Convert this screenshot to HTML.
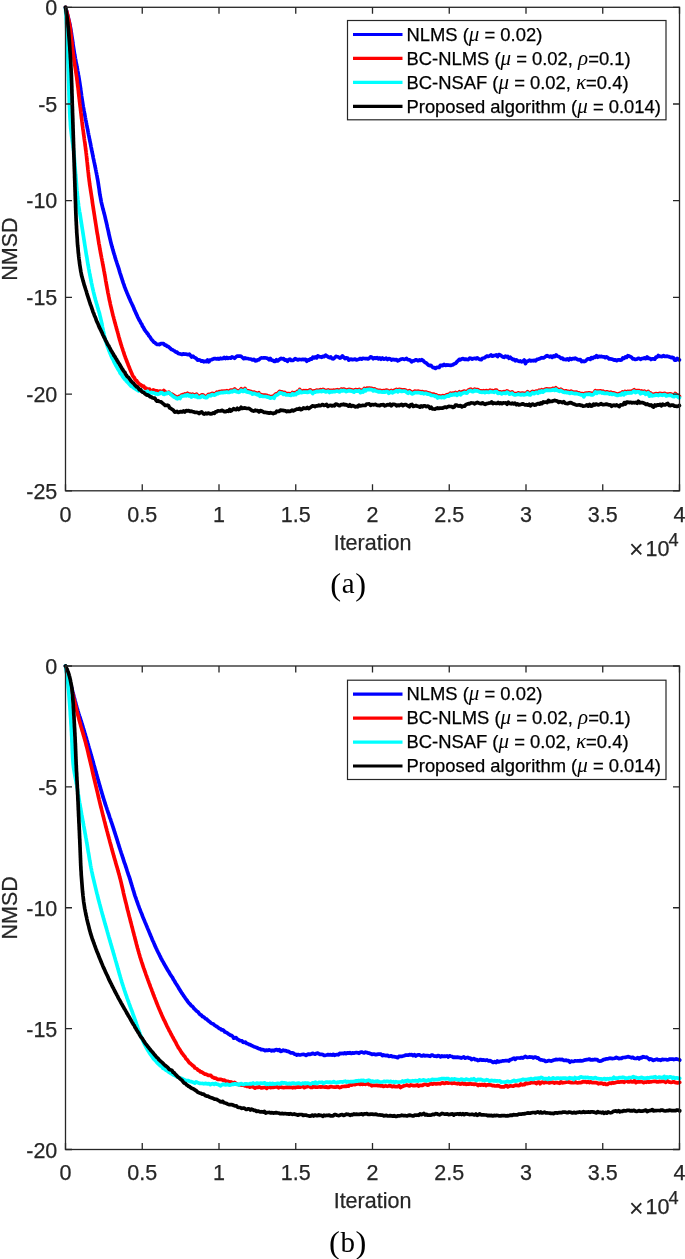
<!DOCTYPE html>
<html><head><meta charset="utf-8"><title>NMSD curves</title>
<style>
html,body{margin:0;padding:0;background:#fff}
svg{display:block}
text{font-family:"Liberation Sans",sans-serif;fill:#262626;stroke:#262626;stroke-width:0.25px}
.tk{font-size:21.5px}
.lb{font-size:21.5px}
.lg{font-size:18.4px;fill:#000;stroke:#000}
.m{font-family:"Liberation Serif","DejaVu Serif",serif;font-style:italic;font-size:21px;stroke:none}
.cap{font-family:"Liberation Serif",serif;font-size:29px;fill:#000;stroke:none}
</style></head><body>
<svg width="685" height="1259" viewBox="0 0 685 1259">
<rect width="685" height="1259" fill="#fff"/>
<g clip-path="none" fill="none" stroke-linejoin="round" stroke-linecap="round">
<path d="M65.5,7.4 L65.9,8.5 L66.2,9.8 L66.6,11.0 L66.9,12.4 L67.2,13.5 L67.6,14.9 L67.9,16.1 L68.2,17.4 L68.5,18.6 L68.8,19.9 L69.1,21.1 L69.4,22.4 L69.7,23.7 L69.9,25.0 L70.2,26.2 L70.4,27.5 L70.7,28.8 L70.9,30.1 L71.1,31.3 L71.3,32.6 L71.5,33.9 L71.7,35.2 L71.9,36.5 L72.1,37.8 L72.3,39.0 L72.5,40.3 L72.7,41.6 L72.8,42.9 L73.0,44.2 L73.2,45.5 L73.4,46.8 L73.6,48.1 L73.8,49.3 L74.0,50.6 L74.2,51.9 L74.4,53.2 L74.6,54.5 L74.9,55.8 L75.1,57.1 L75.3,58.3 L75.6,59.6 L75.8,60.9 L76.0,62.2 L76.3,63.4 L76.5,64.7 L76.8,66.0 L77.0,67.3 L77.3,68.5 L77.5,69.8 L77.7,71.1 L78.0,72.4 L78.2,73.6 L78.4,74.9 L78.7,76.2 L78.9,77.5 L79.1,78.8 L79.3,80.1 L79.5,81.3 L79.7,82.6 L79.9,83.9 L80.1,85.2 L80.3,86.5 L80.5,87.8 L80.6,89.1 L80.8,90.3 L81.0,91.6 L81.2,92.9 L81.4,94.2 L81.5,95.5 L81.7,96.8 L81.9,98.1 L82.1,99.4 L82.3,100.7 L82.5,101.9 L82.7,103.2 L82.9,104.5 L83.1,105.8 L83.3,107.1 L83.6,108.3 L83.8,109.6 L84.0,110.9 L84.3,112.2 L84.5,113.5 L84.8,114.7 L85.0,116.0 L85.2,117.3 L85.5,118.6 L85.7,119.8 L86.0,121.1 L86.2,122.4 L86.5,123.7 L86.7,124.9 L87.0,126.2 L87.2,127.5 L87.5,128.8 L87.7,130.0 L88.0,131.3 L88.2,132.6 L88.5,133.9 L88.7,135.1 L89.0,136.4 L89.2,137.7 L89.5,139.0 L89.7,140.2 L90.0,141.5 L90.3,142.8 L90.5,144.0 L90.8,145.3 L91.0,146.6 L91.3,147.9 L91.5,149.2 L91.8,150.5 L92.0,151.7 L92.3,153.0 L92.6,154.2 L92.8,155.5 L93.1,156.8 L93.3,158.1 L93.6,159.4 L93.9,160.6 L94.1,161.9 L94.4,163.2 L94.7,164.5 L94.9,165.7 L95.2,167.0 L95.5,168.3 L95.7,169.6 L96.0,170.8 L96.2,172.1 L96.5,173.4 L96.7,174.6 L97.0,175.9 L97.2,177.2 L97.4,178.5 L97.7,179.7 L97.9,181.0 L98.1,182.3 L98.3,183.6 L98.5,184.9 L98.7,186.2 L98.9,187.5 L99.1,188.8 L99.3,190.1 L99.4,191.3 L99.6,192.6 L99.8,193.9 L100.0,195.2 L100.3,196.5 L100.5,197.8 L100.7,199.0 L101.0,200.2 L101.2,201.6 L101.5,202.9 L101.8,204.1 L102.1,205.4 L102.4,206.6 L102.7,207.9 L103.0,209.1 L103.4,210.4 L103.7,211.6 L104.0,212.9 L104.4,214.2 L104.7,215.4 L105.0,216.7 L105.3,218.0 L105.6,219.3 L105.9,220.5 L106.2,221.8 L106.5,223.0 L106.8,224.3 L107.1,225.6 L107.3,226.9 L107.6,228.1 L107.9,229.4 L108.2,230.6 L108.5,232.0 L108.7,233.2 L109.0,234.5 L109.3,235.7 L109.6,237.0 L109.9,238.3 L110.2,239.5 L110.5,240.8 L110.8,242.1 L111.1,243.3 L111.4,244.6 L111.8,245.8 L112.1,247.1 L112.5,248.3 L112.8,249.6 L113.2,250.8 L113.5,252.2 L113.9,253.4 L114.3,254.6 L114.7,255.7 L115.0,257.1 L115.4,258.3 L115.8,259.6 L116.2,260.8 L116.6,262.0 L117.0,263.3 L117.4,264.5 L117.8,265.9 L118.2,266.9 L118.6,268.1 L119.0,269.4 L119.3,270.7 L119.7,271.9 L120.1,273.3 L120.5,274.4 L120.9,275.6 L121.3,277.0 L121.7,278.1 L122.1,279.3 L122.5,280.7 L122.9,281.9 L123.3,283.1 L123.8,284.4 L124.2,285.5 L124.6,286.9 L125.1,288.0 L125.5,289.3 L126.0,290.4 L126.5,291.5 L127.0,293.0 L127.5,294.0 L128.0,295.2 L128.5,296.3 L129.0,297.6 L129.6,298.8 L130.1,300.0 L130.6,301.2 L131.2,302.5 L131.7,303.5 L132.2,304.6 L132.8,305.8 L133.3,307.0 L133.8,308.1 L134.3,309.6 L134.8,310.6 L135.4,311.8 L135.9,313.1 L136.4,314.1 L137.0,315.3 L137.5,316.7 L138.1,317.8 L138.7,318.9 L139.3,320.3 L139.9,321.0 L140.5,322.3 L141.1,323.5 L141.8,324.2 L142.4,326.1 L143.1,327.0 L143.7,327.9 L144.4,329.5 L145.1,330.4 L145.8,331.5 L146.6,332.3 L147.3,333.5 L148.1,334.2 L148.8,335.7 L149.6,336.5 L150.5,337.8 L151.3,339.2 L152.2,340.1 L153.1,341.2 L154.0,342.2 L155.0,342.6 L156.0,343.8 L157.1,344.5 L158.3,344.3 L159.6,344.6 L161.0,343.6 L162.3,343.7 L163.6,343.6 L164.8,345.2 L165.9,345.0 L167.0,346.4 L168.1,346.3 L169.2,347.3 L170.3,348.3 L171.4,349.5 L172.5,349.8 L173.6,350.5 L174.8,351.2 L175.9,352.1 L177.1,352.2 L178.2,353.4 L179.4,353.7 L180.6,354.1 L181.8,354.5 L183.1,353.8 L184.4,354.1 L185.8,354.0 L187.1,354.4 L188.3,354.7 L189.4,354.2 L190.6,355.6 L191.7,357.0 L192.9,356.2 L194.0,357.2 L195.2,357.8 L196.4,358.6 L197.6,360.2 L198.8,359.9 L200.0,360.0 L201.3,361.2 L202.5,360.8 L203.8,361.8 L205.0,361.3 L206.3,361.6 L207.5,360.0 L208.8,361.8 L210.1,360.1 L211.4,359.7 L212.6,359.2 L213.9,358.7 L215.2,358.6 L216.5,359.0 L217.9,358.5 L219.1,359.1 L220.4,358.2 L221.7,358.7 L222.9,358.5 L224.2,357.4 L225.5,358.5 L226.8,357.5 L228.1,358.3 L229.4,357.8 L230.7,358.2 L232.0,356.9 L233.3,357.4 L234.6,358.3 L235.9,357.0 L237.2,356.1 L238.5,356.2 L239.8,356.0 L241.1,356.3 L242.4,357.5 L243.7,358.7 L245.0,357.9 L246.3,358.5 L247.5,358.5 L248.8,358.8 L250.1,359.0 L251.4,359.3 L252.7,360.0 L253.9,359.3 L255.2,360.8 L256.5,360.7 L257.7,359.8 L258.9,359.8 L260.2,358.4 L261.4,357.9 L262.6,358.0 L263.9,357.8 L265.1,357.9 L266.4,358.0 L267.7,358.5 L269.0,359.7 L270.2,358.4 L271.5,360.2 L272.7,360.3 L274.0,361.3 L275.2,361.4 L276.4,359.7 L277.6,360.9 L278.8,360.0 L279.9,359.1 L281.1,358.3 L282.3,358.9 L283.6,358.5 L284.8,360.2 L286.1,359.9 L287.4,361.3 L288.6,359.7 L289.9,359.1 L291.2,360.5 L292.5,360.5 L293.8,359.8 L295.1,358.7 L296.4,359.3 L297.7,359.9 L299.0,359.4 L300.3,359.5 L301.6,359.6 L302.9,359.3 L304.2,359.7 L305.5,359.3 L306.8,361.2 L308.1,359.9 L309.3,360.1 L310.5,358.8 L311.7,359.1 L312.9,357.1 L314.1,357.9 L315.3,357.0 L316.6,357.9 L317.8,355.9 L319.1,356.7 L320.4,356.8 L321.7,357.3 L323.0,356.3 L324.3,356.6 L325.6,355.2 L326.9,356.0 L328.2,357.0 L329.5,357.6 L330.8,357.0 L332.1,358.7 L333.4,358.8 L334.6,357.8 L335.9,356.4 L337.2,356.7 L338.5,357.1 L339.8,358.1 L341.1,357.5 L342.4,355.9 L343.7,357.2 L344.9,358.5 L346.2,357.8 L347.5,358.0 L348.7,360.1 L350.0,359.3 L351.2,359.2 L352.5,359.7 L353.8,359.4 L355.1,359.0 L356.4,359.8 L357.7,359.6 L359.0,359.2 L360.3,358.5 L361.6,359.2 L362.9,358.3 L364.2,358.5 L365.5,358.7 L366.8,358.5 L368.1,359.0 L369.3,358.2 L370.6,356.9 L371.9,357.2 L373.2,358.8 L374.5,357.8 L375.8,358.3 L377.2,357.6 L378.5,358.8 L379.8,358.0 L381.0,359.2 L382.3,358.0 L383.6,359.1 L384.9,358.9 L386.2,358.2 L387.5,359.6 L388.8,358.6 L390.1,358.8 L391.4,360.0 L392.7,359.4 L394.0,359.6 L395.3,359.9 L396.5,359.6 L397.8,360.8 L399.1,360.3 L400.3,359.5 L401.6,359.0 L402.9,358.9 L404.1,359.4 L405.4,359.0 L406.6,358.5 L407.8,359.7 L409.1,359.8 L410.3,360.3 L411.6,361.9 L412.8,360.9 L414.1,360.9 L415.4,359.8 L416.7,359.9 L418.0,360.8 L419.3,359.9 L420.5,360.5 L421.7,359.7 L422.9,360.3 L424.0,361.6 L425.2,362.6 L426.3,363.0 L427.4,364.2 L428.5,365.2 L429.6,365.6 L430.8,365.3 L431.9,366.5 L433.1,367.6 L434.3,367.6 L435.5,368.4 L436.7,367.3 L437.9,367.3 L439.1,367.5 L440.3,365.4 L441.6,365.4 L442.8,365.6 L444.1,364.4 L445.4,365.4 L446.7,364.9 L448.0,365.2 L449.3,365.2 L450.6,365.5 L451.8,365.0 L452.9,364.9 L454.0,363.9 L455.1,363.5 L456.1,363.0 L457.2,361.4 L458.3,360.6 L459.4,359.3 L460.5,359.8 L461.8,358.9 L463.1,358.7 L464.4,359.4 L465.7,359.1 L467.0,359.5 L468.3,359.6 L469.6,358.2 L470.9,358.3 L472.2,359.1 L473.5,358.5 L474.8,358.3 L476.1,358.8 L477.4,357.8 L478.7,358.9 L479.9,359.5 L481.2,359.7 L482.5,358.2 L483.7,358.0 L484.8,357.7 L486.0,356.6 L487.2,356.0 L488.5,356.4 L489.7,355.8 L491.0,354.9 L492.3,356.2 L493.6,355.7 L494.9,355.5 L496.2,355.0 L497.6,356.6 L498.9,354.6 L500.2,355.0 L501.5,355.9 L502.7,357.0 L504.0,357.3 L505.3,356.1 L506.6,357.0 L507.8,356.5 L509.1,358.3 L510.3,357.3 L511.5,358.5 L512.8,359.6 L514.0,359.3 L515.3,360.7 L516.5,359.8 L517.8,360.9 L519.0,361.4 L520.3,360.9 L521.6,361.9 L522.9,361.3 L524.2,360.0 L525.5,363.5 L526.8,361.4 L528.1,361.1 L529.4,360.2 L530.7,361.0 L532.0,360.5 L533.2,360.8 L534.5,360.3 L535.7,360.8 L537.0,359.4 L538.2,359.2 L539.5,358.8 L540.8,358.1 L542.0,357.7 L543.3,358.0 L544.5,357.4 L545.8,356.3 L547.1,355.7 L548.3,356.2 L549.6,356.9 L550.9,356.2 L552.2,357.4 L553.5,355.8 L554.8,356.5 L556.1,354.9 L557.4,356.2 L558.7,356.5 L559.9,357.3 L561.2,358.5 L562.4,358.1 L563.6,359.4 L564.9,359.4 L566.1,359.7 L567.4,358.8 L568.7,360.0 L570.0,358.4 L571.3,359.4 L572.6,358.5 L573.9,358.8 L575.2,358.2 L576.5,358.9 L577.8,359.7 L579.1,359.8 L580.3,359.5 L581.6,361.5 L582.8,361.1 L584.1,361.6 L585.3,361.2 L586.5,360.0 L587.8,358.8 L589.0,358.8 L590.2,359.4 L591.4,357.6 L592.6,358.3 L593.9,357.1 L595.2,357.3 L596.5,355.7 L597.7,357.2 L599.0,356.3 L600.3,356.7 L601.6,356.4 L602.8,356.9 L604.1,356.8 L605.3,357.7 L606.5,356.9 L607.8,357.6 L609.1,359.0 L610.3,358.9 L611.6,359.1 L612.9,359.5 L614.2,360.2 L615.4,359.8 L616.7,360.6 L618.0,359.8 L619.2,359.8 L620.4,360.2 L621.7,359.7 L622.9,357.9 L624.1,358.4 L625.4,356.8 L626.6,357.4 L627.8,355.7 L629.1,356.1 L630.3,356.7 L631.6,357.4 L632.8,358.8 L634.1,358.9 L635.4,359.5 L636.6,359.3 L637.9,358.4 L639.2,358.4 L640.5,359.3 L641.8,358.6 L643.2,358.5 L644.5,357.8 L645.8,358.5 L647.1,356.9 L648.4,358.5 L649.7,358.3 L651.0,359.5 L652.2,358.8 L653.5,358.8 L654.7,359.2 L655.9,357.2 L657.1,357.2 L658.3,355.5 L659.5,356.3 L660.8,356.4 L662.1,356.7 L663.4,355.6 L664.7,356.4 L666.0,356.4 L667.3,356.2 L668.5,356.5 L669.7,357.1 L671.0,357.6 L672.2,357.4 L673.4,357.7 L674.7,360.2 L675.9,360.1 L677.2,358.4 L678.5,359.7 L679.4,360.0" stroke="#0000ff" stroke-width="3.7"/>
<path d="M65.5,7.2 L65.9,8.5 L66.2,9.8 L66.5,11.2 L66.9,12.4 L67.2,13.6 L67.5,14.8 L67.8,16.1 L68.1,17.4 L68.4,18.7 L68.7,20.0 L69.0,21.2 L69.2,22.5 L69.5,23.7 L69.7,25.0 L69.9,26.3 L70.1,27.6 L70.3,28.9 L70.5,30.1 L70.6,31.4 L70.8,32.7 L70.9,34.0 L71.1,35.3 L71.2,36.6 L71.4,37.9 L71.5,39.2 L71.7,40.5 L71.8,41.8 L71.9,43.1 L72.1,44.4 L72.2,45.6 L72.3,47.0 L72.5,48.3 L72.6,49.5 L72.8,50.8 L73.0,52.1 L73.1,53.4 L73.3,54.7 L73.5,56.0 L73.7,57.3 L73.9,58.5 L74.0,59.8 L74.2,61.1 L74.4,62.4 L74.6,63.7 L74.8,65.0 L75.0,66.2 L75.2,67.5 L75.4,68.8 L75.6,70.1 L75.8,71.4 L76.0,72.7 L76.2,74.0 L76.4,75.3 L76.6,76.5 L76.8,77.8 L76.9,79.1 L77.1,80.4 L77.3,81.7 L77.4,83.0 L77.6,84.3 L77.7,85.6 L77.9,86.9 L78.1,88.2 L78.2,89.4 L78.4,90.8 L78.5,92.0 L78.6,93.3 L78.8,94.6 L78.9,95.9 L79.1,97.2 L79.2,98.5 L79.4,99.8 L79.5,101.1 L79.7,102.4 L79.8,103.7 L80.0,105.0 L80.1,106.2 L80.3,107.5 L80.5,108.8 L80.6,110.1 L80.8,111.4 L80.9,112.7 L81.1,114.0 L81.2,115.3 L81.4,116.6 L81.5,117.9 L81.7,119.1 L81.9,120.5 L82.0,121.7 L82.2,123.0 L82.3,124.3 L82.5,125.6 L82.7,126.9 L82.8,128.2 L83.0,129.5 L83.2,130.7 L83.4,132.0 L83.5,133.3 L83.7,134.6 L83.9,135.9 L84.1,137.2 L84.2,138.5 L84.4,139.7 L84.6,141.1 L84.8,142.3 L85.0,143.6 L85.1,144.9 L85.3,146.2 L85.5,147.5 L85.6,148.8 L85.8,150.1 L86.0,151.3 L86.1,152.7 L86.3,153.9 L86.4,155.2 L86.6,156.5 L86.7,157.8 L86.8,159.1 L87.0,160.4 L87.1,161.7 L87.3,163.0 L87.4,164.3 L87.5,165.6 L87.7,166.9 L87.8,168.2 L87.9,169.5 L88.1,170.7 L88.2,172.0 L88.4,173.3 L88.5,174.6 L88.6,175.9 L88.8,177.2 L89.0,178.5 L89.1,179.8 L89.3,181.1 L89.5,182.4 L89.6,183.6 L89.8,184.9 L90.0,186.2 L90.2,187.5 L90.4,188.8 L90.6,190.1 L90.8,191.4 L91.0,192.7 L91.2,193.9 L91.4,195.2 L91.6,196.5 L91.8,197.8 L92.0,199.1 L92.2,200.4 L92.3,201.6 L92.5,202.9 L92.7,204.2 L92.9,205.5 L93.1,206.8 L93.3,208.1 L93.5,209.4 L93.7,210.7 L93.9,211.9 L94.1,213.2 L94.3,214.5 L94.5,215.8 L94.7,217.0 L94.9,218.4 L95.1,219.7 L95.3,220.9 L95.5,222.2 L95.7,223.5 L95.9,224.8 L96.1,226.0 L96.3,227.3 L96.5,228.6 L96.7,229.9 L96.9,231.2 L97.1,232.5 L97.3,233.8 L97.6,235.0 L97.8,236.3 L98.0,237.6 L98.2,238.9 L98.4,240.2 L98.6,241.5 L98.8,242.8 L99.0,244.1 L99.3,245.3 L99.5,246.6 L99.7,247.8 L99.9,249.2 L100.2,250.4 L100.4,251.7 L100.6,253.0 L100.9,254.2 L101.1,255.5 L101.4,256.8 L101.6,258.1 L101.9,259.4 L102.1,260.6 L102.4,261.9 L102.6,263.2 L102.8,264.5 L103.1,265.7 L103.3,267.0 L103.6,268.3 L103.8,269.6 L104.0,270.9 L104.3,272.1 L104.5,273.4 L104.7,274.7 L105.0,276.0 L105.2,277.3 L105.4,278.5 L105.6,279.8 L105.8,281.1 L106.1,282.4 L106.3,283.7 L106.5,285.0 L106.8,286.2 L107.0,287.5 L107.2,288.8 L107.5,290.0 L107.7,291.3 L107.9,292.6 L108.2,293.9 L108.5,295.2 L108.7,296.4 L109.0,297.7 L109.2,299.0 L109.5,300.3 L109.8,301.5 L110.1,302.8 L110.3,304.1 L110.6,305.4 L110.9,306.6 L111.2,307.8 L111.5,309.1 L111.8,310.4 L112.1,311.7 L112.4,312.9 L112.7,314.2 L113.0,315.5 L113.4,316.7 L113.7,317.9 L114.0,319.2 L114.4,320.6 L114.7,321.8 L115.0,322.9 L115.4,324.2 L115.7,325.5 L116.1,326.7 L116.4,328.1 L116.8,329.3 L117.1,330.5 L117.5,331.8 L117.8,333.0 L118.2,334.3 L118.5,335.6 L118.8,336.8 L119.2,338.0 L119.5,339.3 L119.9,340.5 L120.3,341.9 L120.6,343.1 L121.0,344.3 L121.4,345.5 L121.8,346.8 L122.2,348.0 L122.6,349.2 L123.0,350.6 L123.4,351.6 L123.8,353.0 L124.2,354.1 L124.6,355.5 L125.1,356.5 L125.5,357.9 L126.0,359.0 L126.4,360.2 L126.9,361.6 L127.4,362.7 L127.9,363.9 L128.3,365.2 L128.8,366.3 L129.3,367.5 L129.8,368.8 L130.3,370.1 L130.8,371.2 L131.3,372.4 L131.9,373.8 L132.4,375.0 L133.0,376.2 L133.7,377.0 L134.3,377.7 L135.0,379.3 L135.8,380.4 L136.7,380.8 L137.6,382.2 L138.5,383.2 L139.5,384.1 L140.6,384.6 L141.6,385.6 L142.6,386.5 L143.7,386.2 L144.9,388.1 L146.0,388.1 L147.2,389.4 L148.4,389.2 L149.6,389.1 L150.9,391.2 L152.1,391.8 L153.3,390.0 L154.6,390.5 L155.9,391.4 L157.2,390.8 L158.5,392.0 L159.8,391.1 L161.1,391.4 L162.5,391.9 L163.8,390.5 L165.1,391.7 L166.3,393.2 L167.6,392.6 L168.8,392.1 L170.0,393.7 L171.7,394.0 L172.9,394.8 L174.0,395.7 L175.2,396.2 L176.3,397.1 L177.5,397.5 L178.8,396.5 L180.0,397.2 L181.2,395.2 L182.5,394.7 L183.8,394.7 L185.0,393.9 L186.3,394.5 L187.5,393.3 L188.8,394.6 L190.1,394.1 L191.4,395.8 L192.6,394.2 L193.9,394.7 L195.2,395.3 L196.5,394.1 L197.8,396.1 L199.1,396.1 L200.4,396.0 L201.7,394.9 L203.0,394.8 L204.3,396.0 L205.6,396.3 L206.9,396.3 L208.2,394.6 L209.5,394.3 L210.7,394.5 L212.0,393.3 L213.2,393.7 L214.4,393.8 L215.5,393.5 L216.7,392.2 L217.9,392.5 L219.1,391.7 L220.4,391.5 L221.7,391.2 L223.0,391.3 L224.3,391.0 L225.6,391.0 L226.9,390.7 L228.2,391.2 L229.6,391.0 L230.8,390.0 L232.1,390.6 L233.4,390.0 L234.7,389.0 L236.0,390.3 L237.3,390.7 L238.6,391.0 L239.9,390.4 L241.2,388.8 L242.4,390.0 L243.7,390.1 L245.0,388.5 L246.2,390.5 L247.5,390.8 L248.8,390.9 L250.0,391.4 L251.3,391.6 L252.5,392.8 L253.8,392.0 L255.0,392.5 L256.3,393.0 L257.5,393.6 L258.8,392.8 L260.0,395.0 L261.3,394.6 L262.5,395.1 L263.8,395.2 L265.1,395.2 L266.4,395.3 L267.7,395.9 L269.0,396.1 L270.3,396.9 L271.6,396.5 L272.8,396.2 L274.0,396.9 L275.1,394.6 L276.2,393.8 L277.4,393.7 L278.5,392.7 L279.7,391.3 L280.9,391.9 L282.1,391.8 L283.4,393.1 L284.7,392.4 L286.0,393.7 L287.3,393.7 L288.6,393.6 L289.9,393.9 L291.1,394.2 L292.4,392.5 L293.6,393.6 L294.8,392.7 L296.0,393.3 L297.3,391.3 L298.5,391.9 L299.7,389.5 L301.0,391.4 L302.3,391.1 L303.6,390.7 L304.9,390.8 L306.2,390.7 L307.5,391.2 L308.8,390.8 L310.1,389.8 L311.4,390.8 L312.7,392.3 L314.0,390.8 L315.3,390.8 L316.6,390.1 L317.9,390.3 L319.2,390.1 L320.5,389.7 L321.8,390.3 L323.0,389.3 L324.3,390.0 L325.6,390.6 L326.9,390.3 L328.2,389.9 L329.5,391.2 L330.8,390.3 L332.1,390.6 L333.4,390.2 L334.7,390.4 L335.9,390.0 L337.2,389.7 L338.5,390.1 L339.8,390.6 L341.1,389.1 L342.4,389.6 L343.7,389.1 L345.0,389.5 L346.3,390.3 L347.6,389.8 L348.8,389.4 L350.1,389.6 L351.4,389.8 L352.7,390.2 L354.0,390.8 L355.3,389.5 L356.7,389.8 L358.0,389.9 L359.2,389.4 L360.5,391.3 L361.8,390.2 L363.0,390.8 L364.3,388.4 L365.5,389.6 L366.8,388.2 L368.1,388.4 L369.3,388.1 L370.6,388.3 L371.9,388.3 L373.2,389.5 L374.5,388.8 L375.8,389.7 L377.1,390.0 L378.4,390.6 L379.7,390.3 L381.0,390.6 L382.3,390.8 L383.6,390.6 L384.9,390.9 L386.2,390.2 L387.5,390.4 L388.8,392.1 L390.0,390.9 L391.3,390.4 L392.6,391.6 L393.9,390.6 L395.2,390.1 L396.5,389.4 L397.8,390.6 L399.1,389.3 L400.4,389.5 L401.7,390.2 L403.0,389.9 L404.3,389.9 L405.6,390.0 L406.8,391.1 L408.1,392.0 L409.4,390.6 L410.7,391.5 L412.0,392.6 L413.3,392.2 L414.6,391.2 L415.9,391.4 L417.2,391.4 L418.5,391.2 L419.8,391.5 L421.1,392.0 L422.4,391.6 L423.7,392.5 L425.0,392.1 L426.2,392.0 L427.5,392.9 L428.8,392.9 L430.0,393.3 L431.3,394.1 L432.5,394.2 L433.8,394.2 L435.1,395.0 L436.3,394.9 L437.6,396.7 L438.9,395.8 L440.2,396.0 L441.5,396.3 L442.8,395.6 L444.1,396.4 L445.4,395.5 L446.6,394.8 L447.9,394.6 L449.1,394.8 L450.4,393.2 L451.7,393.8 L452.9,393.0 L454.2,393.6 L455.5,392.5 L456.8,394.0 L458.1,393.2 L459.4,391.8 L460.7,393.5 L461.9,392.1 L463.2,391.6 L464.5,391.1 L465.8,391.7 L467.0,391.9 L468.3,390.2 L469.5,389.6 L470.8,389.2 L472.1,390.4 L473.3,390.3 L474.6,389.1 L475.9,389.7 L477.2,389.6 L478.4,389.9 L479.7,390.8 L481.0,390.8 L482.3,391.0 L483.6,390.7 L484.9,391.4 L486.2,390.7 L487.5,390.9 L488.8,391.0 L490.1,390.2 L491.4,390.7 L492.7,390.7 L494.0,391.0 L495.3,390.2 L496.6,390.2 L497.9,392.0 L499.2,391.8 L500.4,391.8 L501.7,392.5 L503.0,391.8 L504.3,391.7 L505.6,392.2 L506.9,390.9 L508.2,391.5 L509.5,392.8 L510.8,392.5 L512.1,391.9 L513.4,393.2 L514.7,393.6 L516.0,393.5 L517.3,393.2 L518.6,392.8 L519.8,393.4 L521.1,393.6 L522.4,393.0 L523.7,393.6 L525.0,393.3 L526.3,393.2 L527.6,391.6 L528.9,393.4 L530.2,393.7 L531.5,392.2 L532.8,391.4 L534.1,392.4 L535.4,391.5 L536.6,391.0 L537.9,392.0 L539.2,390.2 L540.5,391.1 L541.7,389.6 L543.0,390.8 L544.2,389.8 L545.5,389.0 L546.7,388.9 L548.0,389.0 L549.3,389.1 L550.6,389.1 L551.9,388.9 L553.2,388.3 L554.5,389.0 L555.8,387.8 L557.1,389.2 L558.3,389.4 L559.6,390.0 L560.8,389.2 L562.1,390.1 L563.4,390.9 L564.6,391.0 L565.9,390.8 L567.2,391.4 L568.5,391.4 L569.8,392.0 L571.1,391.2 L572.4,391.9 L573.7,392.0 L574.9,392.4 L576.2,392.1 L577.5,392.5 L578.8,392.8 L580.0,393.2 L581.3,393.6 L582.6,393.6 L583.8,395.6 L585.1,393.3 L586.4,393.0 L587.7,393.0 L589.0,392.8 L590.3,393.0 L591.6,393.7 L592.8,393.6 L594.1,392.5 L595.4,390.6 L596.7,392.1 L598.0,390.9 L599.3,391.3 L600.6,390.8 L601.9,391.8 L603.1,391.2 L604.4,392.2 L605.7,392.1 L607.0,391.8 L608.3,392.2 L609.6,392.8 L610.9,392.2 L612.2,393.2 L613.5,392.8 L614.8,393.2 L616.1,393.7 L617.4,394.2 L618.7,393.7 L619.9,393.4 L621.2,393.6 L622.5,391.9 L623.8,393.5 L625.0,391.4 L626.3,392.4 L627.6,391.3 L628.9,391.8 L630.2,391.3 L631.5,391.5 L632.8,390.7 L634.1,389.8 L635.4,391.3 L636.7,390.6 L638.0,390.6 L639.3,390.6 L640.5,392.4 L641.8,391.0 L643.1,391.8 L644.4,391.2 L645.7,393.0 L646.9,392.1 L648.2,391.4 L649.4,394.9 L650.7,393.0 L652.0,394.7 L653.2,394.3 L654.5,394.2 L655.8,393.6 L657.1,393.8 L658.4,394.3 L659.7,393.3 L661.0,393.6 L662.3,394.0 L663.6,393.5 L664.9,393.3 L666.2,394.7 L667.5,394.2 L668.8,394.1 L670.1,393.9 L671.4,394.0 L672.7,395.2 L674.0,395.4 L675.2,393.5 L676.5,394.6 L677.8,395.6 L679.1,396.6 L679.4,396.4" stroke="#ff0000" stroke-width="3.7"/>
<path d="M65.5,7.3 L65.6,8.6 L65.7,9.9 L65.7,11.2 L65.8,12.5 L65.9,13.8 L66.0,15.1 L66.1,16.4 L66.1,17.7 L66.2,19.0 L66.3,20.3 L66.4,21.6 L66.4,22.9 L66.5,24.2 L66.6,25.5 L66.6,26.8 L66.7,28.1 L66.7,29.4 L66.8,30.7 L66.9,32.0 L66.9,33.3 L67.0,34.6 L67.0,35.9 L67.1,37.2 L67.1,38.5 L67.2,39.8 L67.3,41.1 L67.3,42.4 L67.4,43.7 L67.4,45.0 L67.5,46.2 L67.5,47.5 L67.6,48.8 L67.6,50.1 L67.7,51.4 L67.7,52.7 L67.8,54.0 L67.8,55.3 L67.9,56.6 L67.9,57.9 L67.9,59.2 L68.0,60.5 L68.0,61.8 L68.1,63.1 L68.1,64.4 L68.2,65.7 L68.2,67.0 L68.3,68.3 L68.3,69.6 L68.3,70.9 L68.4,72.2 L68.4,73.5 L68.5,74.8 L68.5,76.1 L68.6,77.4 L68.6,78.7 L68.6,80.0 L68.7,81.3 L68.7,82.6 L68.8,83.9 L68.8,85.2 L68.8,86.5 L68.9,87.8 L68.9,89.1 L68.9,90.4 L69.0,91.7 L69.0,93.0 L69.0,94.3 L69.1,95.6 L69.1,96.9 L69.2,98.2 L69.2,99.5 L69.2,100.8 L69.3,102.1 L69.3,103.4 L69.4,104.7 L69.4,106.0 L69.5,107.3 L69.6,108.6 L69.6,109.9 L69.7,111.2 L69.7,112.5 L69.8,113.8 L69.9,115.1 L69.9,116.4 L70.0,117.7 L70.1,119.0 L70.2,120.3 L70.3,121.6 L70.4,122.9 L70.4,124.2 L70.5,125.5 L70.6,126.8 L70.7,128.1 L70.9,129.4 L71.0,130.7 L71.2,132.0 L71.3,133.2 L71.5,134.5 L71.6,135.8 L71.8,137.1 L72.0,138.4 L72.2,139.7 L72.3,141.0 L72.5,142.3 L72.7,143.6 L72.9,144.9 L73.1,146.1 L73.2,147.4 L73.4,148.7 L73.5,150.0 L73.7,151.3 L73.8,152.6 L73.9,153.9 L74.1,155.2 L74.2,156.5 L74.3,157.8 L74.4,159.1 L74.5,160.4 L74.6,161.7 L74.7,162.9 L74.8,164.2 L74.9,165.5 L75.0,166.8 L75.1,168.1 L75.2,169.4 L75.3,170.7 L75.4,172.0 L75.5,173.3 L75.6,174.6 L75.8,175.9 L75.9,177.2 L76.0,178.5 L76.1,179.8 L76.2,181.1 L76.3,182.4 L76.4,183.7 L76.5,185.0 L76.6,186.3 L76.7,187.6 L76.8,188.9 L76.9,190.2 L77.1,191.5 L77.2,192.8 L77.3,194.0 L77.4,195.3 L77.5,196.6 L77.7,197.9 L77.8,199.2 L78.0,200.5 L78.1,201.8 L78.3,203.1 L78.5,204.4 L78.6,205.7 L78.8,207.0 L79.0,208.2 L79.2,209.5 L79.4,210.8 L79.6,212.1 L79.9,213.3 L80.1,214.6 L80.3,215.9 L80.5,217.2 L80.7,218.5 L80.9,219.8 L81.1,221.1 L81.3,222.4 L81.5,223.7 L81.7,224.9 L81.9,226.2 L82.1,227.5 L82.3,228.8 L82.5,230.0 L82.7,231.3 L82.9,232.6 L83.1,233.9 L83.3,235.2 L83.5,236.5 L83.7,237.8 L83.9,239.1 L84.1,240.3 L84.3,241.6 L84.5,242.9 L84.7,244.2 L84.9,245.5 L85.1,246.8 L85.3,248.0 L85.5,249.3 L85.7,250.6 L85.9,251.9 L86.1,253.2 L86.3,254.5 L86.5,255.8 L86.8,257.0 L87.0,258.3 L87.2,259.6 L87.4,260.9 L87.6,262.2 L87.8,263.4 L88.0,264.8 L88.3,266.0 L88.5,267.3 L88.7,268.6 L89.0,269.8 L89.2,271.1 L89.4,272.4 L89.7,273.6 L89.9,275.0 L90.2,276.2 L90.4,277.5 L90.7,278.8 L90.9,280.0 L91.2,281.3 L91.4,282.6 L91.7,283.9 L92.0,285.2 L92.2,286.4 L92.5,287.7 L92.8,289.0 L93.1,290.2 L93.4,291.6 L93.7,292.8 L94.0,294.1 L94.3,295.3 L94.6,296.5 L94.9,297.8 L95.3,299.1 L95.6,300.3 L96.0,301.5 L96.3,302.8 L96.7,304.0 L97.1,305.2 L97.4,306.6 L97.8,307.8 L98.2,309.1 L98.5,310.3 L98.9,311.5 L99.3,312.8 L99.6,314.0 L99.9,315.3 L100.2,316.6 L100.5,317.8 L100.8,319.1 L101.1,320.4 L101.4,321.6 L101.7,322.9 L101.9,324.2 L102.2,325.4 L102.4,326.8 L102.7,328.1 L103.0,329.3 L103.2,330.6 L103.5,331.9 L103.8,333.1 L104.0,334.4 L104.3,335.7 L104.6,336.9 L104.9,338.1 L105.3,339.4 L105.6,340.7 L106.0,342.0 L106.4,343.1 L106.8,344.4 L107.2,345.6 L107.6,346.9 L108.1,348.1 L108.5,349.2 L109.0,350.5 L109.5,351.8 L110.0,353.0 L110.5,354.2 L111.0,355.5 L111.5,356.6 L112.1,357.8 L112.6,358.9 L113.2,359.9 L113.7,361.1 L114.3,362.4 L114.9,363.5 L115.5,364.6 L116.1,365.9 L116.7,366.9 L117.4,368.2 L118.0,369.3 L118.7,370.3 L119.4,371.2 L120.1,373.0 L120.8,373.9 L121.5,374.4 L122.3,375.9 L123.1,377.1 L123.8,378.0 L124.6,379.1 L125.5,379.7 L126.3,381.0 L127.2,381.9 L128.1,382.8 L129.0,383.8 L130.0,384.9 L131.0,386.1 L132.1,386.4 L133.1,387.3 L134.2,388.2 L135.3,388.8 L136.4,389.6 L137.5,390.2 L138.6,390.9 L139.8,390.6 L141.0,389.8 L142.3,391.5 L143.6,392.1 L144.8,392.1 L146.2,392.4 L147.5,391.3 L148.8,393.3 L150.1,393.0 L151.4,392.4 L152.7,392.9 L154.0,392.9 L155.3,393.8 L156.6,393.7 L157.9,394.3 L159.3,393.8 L160.6,392.6 L161.9,392.5 L163.2,394.1 L164.5,394.3 L165.8,393.3 L167.0,393.7 L168.2,392.7 L169.4,393.0 L170.6,394.1 L171.7,395.3 L172.9,396.1 L174.0,397.0 L175.2,397.5 L176.3,398.4 L177.5,398.8 L178.8,397.8 L180.0,398.5 L181.2,396.5 L182.5,396.0 L183.8,396.0 L185.0,395.2 L186.3,395.8 L187.5,394.6 L188.8,395.9 L190.1,395.4 L191.4,397.1 L192.6,395.5 L193.9,396.0 L195.2,396.6 L196.5,395.4 L197.8,397.4 L199.1,397.4 L200.4,397.3 L201.7,396.2 L203.0,396.1 L204.3,397.3 L205.6,397.6 L206.9,397.6 L208.2,395.9 L209.5,395.6 L210.7,395.8 L212.0,394.6 L213.2,395.0 L214.4,395.1 L215.5,394.8 L216.7,393.5 L217.9,393.8 L219.1,393.0 L220.4,392.8 L221.7,392.5 L223.0,392.6 L224.3,392.3 L225.6,392.3 L226.9,392.0 L228.2,392.5 L229.6,392.3 L230.8,391.3 L232.1,391.9 L233.4,391.3 L234.7,390.3 L236.0,391.6 L237.3,392.0 L238.6,392.3 L239.9,391.7 L241.2,390.1 L242.4,391.3 L243.7,391.4 L245.0,389.8 L246.2,391.8 L247.5,392.1 L248.8,392.2 L250.0,392.7 L251.3,392.9 L252.5,394.1 L253.8,393.3 L255.0,393.8 L256.3,394.3 L257.5,394.9 L258.8,394.1 L260.0,396.3 L261.3,395.9 L262.5,396.4 L263.8,396.5 L265.1,396.5 L266.4,396.6 L267.7,397.2 L269.0,397.4 L270.3,398.2 L271.6,397.8 L272.8,397.5 L274.0,398.2 L275.1,395.9 L276.2,395.1 L277.4,395.0 L278.5,394.0 L279.7,392.6 L280.9,393.2 L282.1,393.1 L283.4,394.4 L284.7,393.7 L286.0,395.0 L287.3,395.0 L288.6,394.9 L289.9,395.2 L291.1,395.5 L292.4,393.8 L293.6,394.9 L294.8,394.0 L296.0,394.6 L297.3,392.6 L298.5,393.2 L299.7,390.8 L301.0,392.7 L302.3,392.4 L303.6,392.0 L304.9,392.1 L306.2,392.0 L307.5,392.5 L308.8,392.1 L310.1,391.1 L311.4,392.1 L312.7,393.6 L314.0,392.1 L315.3,392.1 L316.6,391.4 L317.9,391.6 L319.2,391.4 L320.5,391.0 L321.8,391.6 L323.0,390.6 L324.3,391.3 L325.6,391.9 L326.9,391.6 L328.2,391.2 L329.5,392.5 L330.8,391.6 L332.1,391.9 L333.4,391.5 L334.7,391.7 L335.9,391.3 L337.2,391.0 L338.5,391.4 L339.8,391.9 L341.1,390.4 L342.4,390.9 L343.7,390.4 L345.0,390.8 L346.3,391.6 L347.6,391.1 L348.8,390.7 L350.1,390.9 L351.4,391.1 L352.7,391.5 L354.0,392.1 L355.3,390.8 L356.7,391.1 L358.0,391.2 L359.2,390.7 L360.5,392.6 L361.8,391.5 L363.0,392.1 L364.3,389.7 L365.5,390.9 L366.8,389.5 L368.1,389.7 L369.3,389.4 L370.6,389.6 L371.9,389.6 L373.2,390.8 L374.5,390.1 L375.8,391.0 L377.1,391.3 L378.4,391.9 L379.7,391.6 L381.0,391.9 L382.3,392.1 L383.6,391.9 L384.9,392.2 L386.2,391.5 L387.5,391.7 L388.8,393.4 L390.0,392.2 L391.3,391.7 L392.6,392.9 L393.9,391.9 L395.2,391.4 L396.5,390.7 L397.8,391.9 L399.1,390.6 L400.4,390.8 L401.7,391.5 L403.0,391.2 L404.3,391.2 L405.6,391.3 L406.8,392.4 L408.1,393.3 L409.4,391.9 L410.7,392.8 L412.0,393.9 L413.3,393.5 L414.6,392.5 L415.9,392.7 L417.2,392.7 L418.5,392.5 L419.8,392.8 L421.1,393.3 L422.4,392.9 L423.7,393.8 L425.0,393.4 L426.2,393.3 L427.5,394.2 L428.8,394.2 L430.0,394.6 L431.3,395.4 L432.5,395.5 L433.8,395.5 L435.1,396.3 L436.3,396.2 L437.6,398.0 L438.9,397.1 L440.2,397.3 L441.5,397.6 L442.8,396.9 L444.1,397.7 L445.4,396.8 L446.6,396.1 L447.9,395.9 L449.1,396.1 L450.4,394.5 L451.7,395.1 L452.9,394.3 L454.2,394.9 L455.5,393.8 L456.8,395.3 L458.1,394.5 L459.4,393.1 L460.7,394.8 L461.9,393.4 L463.2,392.9 L464.5,392.4 L465.8,393.0 L467.0,393.2 L468.3,391.5 L469.5,390.9 L470.8,390.5 L472.1,391.7 L473.3,391.6 L474.6,390.4 L475.9,391.0 L477.2,390.9 L478.4,391.2 L479.7,392.1 L481.0,392.1 L482.3,392.3 L483.6,392.0 L484.9,392.7 L486.2,392.0 L487.5,392.2 L488.8,392.3 L490.1,391.5 L491.4,392.0 L492.7,392.0 L494.0,392.3 L495.3,391.5 L496.6,391.5 L497.9,393.3 L499.2,393.1 L500.4,393.1 L501.7,393.8 L503.0,393.1 L504.3,393.0 L505.6,393.5 L506.9,392.2 L508.2,392.8 L509.5,394.1 L510.8,393.8 L512.1,393.2 L513.4,394.5 L514.7,394.9 L516.0,394.8 L517.3,394.5 L518.6,394.1 L519.8,394.7 L521.1,394.9 L522.4,394.3 L523.7,394.9 L525.0,394.6 L526.3,394.5 L527.6,392.9 L528.9,394.7 L530.2,395.0 L531.5,393.5 L532.8,392.7 L534.1,393.7 L535.4,392.8 L536.6,392.3 L537.9,393.3 L539.2,391.5 L540.5,392.4 L541.7,390.9 L543.0,392.1 L544.2,391.1 L545.5,390.3 L546.7,390.2 L548.0,390.3 L549.3,390.4 L550.6,390.4 L551.9,390.2 L553.2,389.6 L554.5,390.3 L555.8,389.1 L557.1,390.5 L558.3,390.7 L559.6,391.3 L560.8,390.5 L562.1,391.4 L563.4,392.2 L564.6,392.3 L565.9,392.1 L567.2,392.7 L568.5,392.7 L569.8,393.3 L571.1,392.5 L572.4,393.2 L573.7,393.3 L574.9,393.7 L576.2,393.4 L577.5,393.8 L578.8,394.1 L580.0,394.5 L581.3,394.9 L582.6,394.9 L583.8,396.9 L585.1,394.6 L586.4,394.3 L587.7,394.3 L589.0,394.1 L590.3,394.3 L591.6,395.0 L592.8,394.9 L594.1,393.8 L595.4,391.9 L596.7,393.4 L598.0,392.2 L599.3,392.6 L600.6,392.1 L601.9,393.1 L603.1,392.5 L604.4,393.5 L605.7,393.4 L607.0,393.1 L608.3,393.5 L609.6,394.1 L610.9,393.5 L612.2,394.5 L613.5,394.1 L614.8,394.5 L616.1,395.0 L617.4,395.5 L618.7,395.0 L619.9,394.7 L621.2,394.9 L622.5,393.2 L623.8,394.8 L625.0,392.7 L626.3,393.7 L627.6,392.6 L628.9,393.1 L630.2,392.6 L631.5,392.8 L632.8,392.0 L634.1,391.1 L635.4,392.6 L636.7,391.9 L638.0,391.9 L639.3,391.9 L640.5,393.7 L641.8,392.3 L643.1,393.1 L644.4,392.5 L645.7,394.3 L646.9,393.4 L648.2,392.7 L649.4,396.2 L650.7,394.3 L652.0,396.0 L653.2,395.6 L654.5,395.5 L655.8,394.9 L657.1,395.1 L658.4,395.6 L659.7,394.6 L661.0,394.9 L662.3,395.3 L663.6,394.8 L664.9,394.6 L666.2,396.0 L667.5,395.5 L668.8,395.4 L670.1,395.2 L671.4,395.3 L672.7,396.5 L674.0,396.7 L675.2,394.8 L676.5,395.9 L677.8,396.9 L679.1,397.9 L679.4,397.7" stroke="#00ffff" stroke-width="3.7"/>
<path d="M65.5,7.3 L65.7,8.6 L65.9,9.9 L66.1,11.2 L66.3,12.4 L66.5,13.7 L66.7,15.0 L66.9,16.3 L67.1,17.6 L67.2,18.9 L67.4,20.2 L67.6,21.4 L67.7,22.8 L67.9,24.0 L68.0,25.3 L68.1,26.6 L68.3,27.9 L68.4,29.2 L68.5,30.5 L68.6,31.8 L68.7,33.1 L68.8,34.4 L68.9,35.7 L69.0,37.0 L69.1,38.3 L69.2,39.6 L69.3,40.9 L69.4,42.2 L69.5,43.5 L69.6,44.8 L69.7,46.1 L69.8,47.4 L69.9,48.7 L69.9,50.0 L70.0,51.2 L70.1,52.5 L70.2,53.8 L70.3,55.1 L70.3,56.4 L70.4,57.7 L70.5,59.0 L70.6,60.3 L70.7,61.6 L70.7,62.9 L70.8,64.2 L70.9,65.5 L70.9,66.8 L71.0,68.1 L71.1,69.4 L71.1,70.7 L71.2,72.0 L71.3,73.3 L71.3,74.6 L71.4,75.9 L71.4,77.2 L71.5,78.5 L71.5,79.8 L71.6,81.1 L71.6,82.4 L71.7,83.7 L71.7,85.0 L71.8,86.3 L71.8,87.6 L71.8,88.9 L71.9,90.2 L71.9,91.5 L71.9,92.8 L72.0,94.1 L72.0,95.4 L72.1,96.7 L72.1,98.0 L72.1,99.3 L72.2,100.6 L72.2,101.9 L72.2,103.2 L72.3,104.5 L72.3,105.8 L72.4,107.1 L72.4,108.4 L72.5,109.7 L72.5,111.0 L72.5,112.3 L72.6,113.6 L72.6,114.9 L72.7,116.2 L72.7,117.5 L72.8,118.8 L72.8,120.1 L72.8,121.4 L72.9,122.7 L72.9,124.0 L73.0,125.3 L73.0,126.6 L73.0,127.9 L73.1,129.2 L73.1,130.5 L73.2,131.8 L73.2,133.1 L73.2,134.4 L73.3,135.7 L73.3,137.0 L73.4,138.3 L73.4,139.6 L73.4,140.9 L73.5,142.2 L73.5,143.5 L73.6,144.8 L73.6,146.1 L73.6,147.4 L73.7,148.7 L73.7,150.0 L73.8,151.3 L73.8,152.6 L73.8,153.9 L73.9,155.2 L73.9,156.5 L74.0,157.8 L74.0,159.1 L74.1,160.4 L74.1,161.7 L74.2,163.0 L74.2,164.3 L74.2,165.6 L74.3,166.9 L74.3,168.2 L74.4,169.5 L74.4,170.8 L74.5,172.1 L74.5,173.4 L74.6,174.7 L74.6,176.0 L74.6,177.3 L74.7,178.6 L74.7,179.9 L74.8,181.2 L74.8,182.5 L74.9,183.8 L74.9,185.1 L74.9,186.4 L75.0,187.7 L75.0,189.0 L75.1,190.3 L75.1,191.6 L75.2,192.9 L75.2,194.1 L75.2,195.5 L75.3,196.7 L75.3,198.0 L75.4,199.3 L75.4,200.6 L75.5,201.9 L75.5,203.2 L75.6,204.5 L75.6,205.8 L75.6,207.1 L75.7,208.4 L75.7,209.7 L75.8,211.0 L75.8,212.3 L75.9,213.6 L75.9,214.9 L76.0,216.2 L76.0,217.5 L76.1,218.8 L76.1,220.1 L76.2,221.4 L76.3,222.7 L76.3,224.0 L76.4,225.3 L76.5,226.6 L76.5,227.9 L76.6,229.2 L76.7,230.5 L76.7,231.8 L76.8,233.1 L76.9,234.4 L77.0,235.7 L77.1,237.0 L77.2,238.3 L77.3,239.6 L77.3,240.9 L77.4,242.2 L77.5,243.5 L77.6,244.8 L77.7,246.1 L77.9,247.4 L78.0,248.7 L78.1,250.0 L78.2,251.3 L78.3,252.6 L78.5,253.9 L78.6,255.1 L78.7,256.5 L78.9,257.7 L79.0,259.0 L79.2,260.3 L79.4,261.6 L79.5,262.9 L79.7,264.2 L79.9,265.5 L80.1,266.8 L80.3,268.1 L80.5,269.3 L80.7,270.6 L80.9,271.9 L81.2,273.1 L81.4,274.5 L81.7,275.7 L82.0,276.9 L82.4,278.2 L82.7,279.4 L83.0,280.7 L83.4,281.9 L83.8,283.2 L84.1,284.6 L84.5,285.7 L84.9,286.9 L85.3,288.2 L85.7,289.5 L86.1,290.7 L86.5,291.9 L86.8,293.2 L87.2,294.5 L87.6,295.6 L88.0,296.8 L88.4,298.3 L88.8,299.3 L89.2,300.7 L89.6,301.9 L90.0,303.0 L90.4,304.4 L90.9,305.5 L91.3,306.7 L91.7,307.9 L92.2,309.3 L92.6,310.4 L93.0,311.8 L93.5,312.8 L94.0,314.2 L94.4,315.4 L94.9,316.5 L95.4,317.6 L95.9,318.9 L96.3,320.3 L96.8,321.4 L97.3,322.5 L97.9,323.6 L98.4,325.0 L98.9,326.3 L99.4,327.5 L100.0,328.6 L100.5,329.7 L101.1,330.8 L101.6,332.0 L102.2,333.0 L102.7,334.6 L103.3,335.6 L103.9,337.0 L104.4,337.9 L105.0,338.9 L105.6,340.5 L106.2,341.3 L106.8,342.5 L107.4,343.9 L108.0,345.0 L108.7,345.7 L109.3,347.1 L109.9,348.1 L110.6,349.5 L111.2,350.8 L111.9,351.6 L112.5,353.0 L113.2,353.7 L113.8,355.4 L114.5,356.0 L115.2,357.2 L115.8,358.4 L116.5,359.2 L117.2,360.8 L117.8,361.5 L118.5,362.9 L119.2,363.7 L119.9,365.1 L120.6,366.2 L121.2,367.2 L121.9,368.5 L122.6,369.3 L123.4,370.9 L124.1,371.7 L124.8,372.2 L125.5,374.2 L126.3,375.0 L127.0,376.3 L127.8,376.9 L128.6,377.5 L129.4,378.9 L130.2,379.7 L131.0,381.0 L131.9,381.8 L132.8,383.0 L133.7,383.4 L134.6,384.8 L135.5,385.6 L136.5,386.9 L137.4,386.9 L138.4,388.2 L139.4,389.8 L140.4,389.5 L141.4,391.1 L142.5,392.1 L143.5,392.3 L144.6,393.4 L145.7,394.2 L146.8,395.1 L147.9,394.9 L149.0,395.7 L150.2,396.8 L151.3,396.8 L152.4,397.8 L153.6,398.1 L154.7,398.0 L155.8,399.9 L157.0,401.2 L158.1,400.7 L159.3,401.5 L160.5,401.8 L161.6,402.3 L162.8,403.3 L164.0,404.3 L165.1,405.4 L166.3,405.4 L167.4,405.2 L168.5,405.7 L169.6,407.8 L170.6,408.3 L171.6,409.0 L172.7,409.7 L173.7,410.6 L174.8,412.1 L175.9,412.0 L177.1,411.4 L178.3,412.5 L179.5,412.1 L180.8,411.6 L182.2,412.0 L183.5,411.0 L184.8,412.0 L186.2,410.5 L187.4,410.9 L188.7,410.6 L190.0,411.3 L191.3,411.2 L192.6,411.6 L193.9,411.9 L195.2,412.4 L196.5,412.3 L197.8,412.5 L199.1,413.5 L200.4,412.5 L201.7,411.8 L203.0,413.5 L204.3,414.1 L205.6,413.2 L207.0,413.8 L208.2,413.0 L209.5,413.6 L210.8,413.9 L212.0,413.7 L213.3,412.9 L214.4,413.4 L215.6,411.9 L216.8,411.6 L218.0,410.8 L219.2,411.0 L220.5,411.0 L221.8,410.3 L223.1,410.9 L224.4,411.7 L225.7,411.6 L227.0,410.8 L228.3,411.3 L229.7,409.4 L230.9,411.1 L232.2,410.0 L233.5,408.7 L234.8,409.5 L236.0,409.6 L237.3,408.3 L238.6,409.5 L239.9,408.9 L241.1,407.2 L242.4,408.5 L243.7,408.1 L245.0,407.9 L246.2,408.3 L247.5,408.5 L248.8,408.4 L250.1,409.1 L251.3,410.1 L252.6,410.8 L253.9,411.1 L255.2,410.2 L256.4,410.7 L257.7,410.6 L259.0,411.9 L260.3,410.6 L261.5,411.0 L262.8,411.7 L264.1,412.4 L265.4,412.3 L266.7,412.7 L268.0,412.9 L269.3,413.2 L270.6,412.6 L271.8,413.1 L273.1,413.6 L274.3,413.0 L275.5,412.9 L276.7,411.2 L277.9,411.4 L279.1,411.3 L280.4,410.1 L281.6,410.4 L282.9,410.4 L284.2,410.7 L285.5,410.8 L286.8,411.6 L288.1,411.1 L289.5,411.4 L290.7,411.1 L292.0,410.2 L293.3,410.9 L294.5,410.2 L295.8,409.6 L297.1,409.0 L298.3,409.1 L299.6,408.4 L300.8,409.7 L302.1,409.3 L303.4,407.9 L304.7,408.3 L306.0,408.4 L307.3,407.5 L308.6,408.5 L309.9,407.8 L311.1,407.0 L312.4,405.8 L313.7,406.0 L315.0,406.6 L316.3,405.9 L317.6,405.9 L318.9,405.2 L320.1,405.7 L321.4,405.2 L322.7,404.5 L324.0,405.3 L325.3,405.1 L326.6,404.5 L327.9,406.4 L329.2,405.5 L330.5,405.3 L331.8,405.9 L333.1,405.4 L334.4,405.8 L335.7,404.2 L337.0,404.4 L338.3,405.2 L339.6,405.7 L340.9,404.7 L342.2,404.7 L343.5,404.2 L344.8,404.8 L346.0,404.7 L347.3,405.3 L348.6,406.2 L349.9,404.8 L351.2,406.3 L352.5,405.7 L353.8,405.8 L355.1,406.9 L356.4,406.4 L357.7,406.8 L359.0,405.1 L360.3,405.9 L361.5,405.7 L362.8,405.3 L364.1,405.5 L365.3,405.4 L366.6,404.0 L367.9,404.0 L369.2,403.9 L370.5,405.4 L371.8,404.5 L373.1,404.8 L374.4,404.7 L375.7,404.4 L377.0,405.3 L378.3,405.3 L379.6,405.7 L380.9,404.9 L382.2,404.8 L383.5,404.6 L384.8,405.8 L386.1,405.4 L387.4,404.7 L388.7,405.0 L390.0,404.2 L391.3,405.9 L392.6,404.3 L393.9,404.4 L395.2,404.5 L396.5,405.8 L397.8,405.0 L399.1,405.6 L400.4,404.9 L401.6,404.3 L402.9,405.6 L404.2,404.8 L405.5,404.5 L406.8,405.1 L408.1,405.9 L409.4,406.7 L410.7,404.8 L412.0,404.4 L413.3,406.4 L414.6,406.0 L415.9,405.5 L417.2,406.2 L418.6,406.4 L419.9,407.2 L421.2,405.9 L422.5,406.8 L423.8,405.8 L425.0,405.9 L426.3,406.6 L427.5,406.1 L428.8,406.5 L430.0,408.3 L431.2,407.3 L432.4,408.9 L433.7,409.0 L434.9,409.1 L436.2,408.4 L437.5,407.9 L438.7,408.5 L440.0,408.0 L441.3,408.2 L442.6,408.2 L443.9,407.5 L445.2,407.1 L446.5,407.6 L447.8,406.7 L449.0,406.4 L450.3,406.5 L451.6,406.6 L452.9,407.5 L454.2,407.1 L455.4,405.2 L456.7,405.1 L458.0,405.9 L459.3,406.1 L460.6,405.6 L461.9,406.9 L463.2,406.2 L464.5,406.2 L465.8,404.7 L467.1,404.1 L468.3,403.6 L469.6,403.9 L470.9,402.9 L472.1,403.0 L473.4,403.0 L474.7,403.8 L476.0,402.9 L477.3,402.4 L478.6,403.0 L479.9,403.4 L481.2,403.7 L482.5,402.8 L483.8,403.8 L485.1,404.3 L486.4,403.7 L487.7,403.5 L489.0,403.1 L490.3,403.0 L491.6,402.0 L492.9,403.6 L494.2,403.0 L495.5,403.3 L496.8,403.4 L498.1,402.5 L499.4,403.5 L500.7,402.8 L502.0,403.6 L503.3,402.8 L504.6,403.0 L505.9,402.9 L507.1,404.2 L508.4,402.3 L509.7,403.5 L511.0,403.8 L512.3,403.2 L513.6,403.8 L514.9,403.1 L516.2,404.7 L517.5,403.8 L518.8,405.0 L520.1,404.6 L521.4,404.3 L522.7,403.8 L524.0,404.4 L525.3,405.0 L526.6,404.7 L527.9,405.2 L529.2,404.3 L530.4,405.8 L531.7,404.6 L533.0,404.1 L534.3,405.2 L535.6,405.0 L536.9,403.9 L538.2,403.5 L539.5,404.1 L540.8,402.8 L542.0,403.6 L543.3,401.9 L544.5,402.3 L545.8,402.0 L547.1,402.5 L548.4,400.4 L549.6,401.6 L550.9,401.3 L552.2,401.3 L553.5,400.7 L554.9,400.4 L556.1,400.9 L557.4,401.1 L558.7,402.3 L560.0,401.7 L561.3,402.0 L562.5,402.7 L563.8,401.6 L565.1,403.2 L566.4,403.5 L567.7,403.7 L569.0,403.0 L570.3,402.6 L571.6,402.9 L572.9,403.8 L574.2,404.1 L575.4,404.7 L576.7,405.1 L578.0,405.0 L579.3,404.8 L580.5,405.3 L581.8,405.3 L583.1,406.2 L584.4,406.0 L585.7,405.7 L587.0,404.8 L588.3,406.1 L589.6,404.5 L590.9,406.1 L592.2,405.9 L593.5,404.2 L594.8,405.0 L596.0,404.1 L597.3,404.6 L598.6,404.9 L599.9,404.3 L601.2,403.6 L602.5,404.6 L603.8,404.6 L605.1,404.5 L606.4,404.0 L607.7,404.5 L609.0,405.0 L610.3,404.8 L611.6,406.3 L612.9,405.3 L614.2,405.2 L615.5,405.7 L616.8,404.9 L618.1,405.8 L619.4,406.5 L620.6,404.8 L621.8,405.0 L623.1,404.7 L624.3,402.7 L625.5,404.0 L626.7,402.1 L628.0,402.2 L629.2,402.6 L630.5,402.3 L631.8,402.9 L633.1,402.5 L634.5,402.8 L635.8,402.4 L637.1,403.3 L638.4,401.2 L639.6,402.8 L640.9,402.6 L642.2,402.5 L643.5,403.0 L644.7,403.5 L646.0,404.4 L647.3,403.9 L648.5,404.8 L649.8,405.4 L651.0,404.8 L652.3,406.3 L653.6,407.0 L654.9,405.0 L656.2,405.8 L657.5,404.8 L658.8,405.1 L660.1,404.4 L661.3,405.8 L662.6,404.2 L663.9,404.9 L665.2,404.9 L666.5,404.0 L667.8,403.5 L669.1,405.4 L670.4,405.7 L671.7,405.0 L673.0,405.0 L674.3,406.1 L675.6,406.2 L676.9,406.4 L678.2,406.1 L679.4,405.5" stroke="#000000" stroke-width="3.7"/>
</g>
<rect x="65.5" y="7.3" width="614.0" height="483.5" fill="none" stroke="#262626" stroke-width="1.3"/>
<path d="M65.50,490.8v-6.5M65.50,7.3v6.5" stroke="#262626" stroke-width="1.3"/>
<text x="65.5" y="521.5" text-anchor="middle" class="tk">0</text>
<path d="M142.25,490.8v-6.5M142.25,7.3v6.5" stroke="#262626" stroke-width="1.3"/>
<text x="142.2" y="521.5" text-anchor="middle" class="tk">0.5</text>
<path d="M219.00,490.8v-6.5M219.00,7.3v6.5" stroke="#262626" stroke-width="1.3"/>
<text x="219.0" y="521.5" text-anchor="middle" class="tk">1</text>
<path d="M295.75,490.8v-6.5M295.75,7.3v6.5" stroke="#262626" stroke-width="1.3"/>
<text x="295.8" y="521.5" text-anchor="middle" class="tk">1.5</text>
<path d="M372.50,490.8v-6.5M372.50,7.3v6.5" stroke="#262626" stroke-width="1.3"/>
<text x="372.5" y="521.5" text-anchor="middle" class="tk">2</text>
<path d="M449.25,490.8v-6.5M449.25,7.3v6.5" stroke="#262626" stroke-width="1.3"/>
<text x="449.2" y="521.5" text-anchor="middle" class="tk">2.5</text>
<path d="M526.00,490.8v-6.5M526.00,7.3v6.5" stroke="#262626" stroke-width="1.3"/>
<text x="526.0" y="521.5" text-anchor="middle" class="tk">3</text>
<path d="M602.75,490.8v-6.5M602.75,7.3v6.5" stroke="#262626" stroke-width="1.3"/>
<text x="602.8" y="521.5" text-anchor="middle" class="tk">3.5</text>
<path d="M679.50,490.8v-6.5M679.50,7.3v6.5" stroke="#262626" stroke-width="1.3"/>
<text x="679.5" y="521.5" text-anchor="middle" class="tk">4</text>
<path d="M65.5,7.30h6.5M679.5,7.30h-6.5" stroke="#262626" stroke-width="1.3"/>
<text x="57.3" y="15.0" text-anchor="end" class="tk">0</text>
<path d="M65.5,104.00h6.5M679.5,104.00h-6.5" stroke="#262626" stroke-width="1.3"/>
<text x="57.3" y="111.7" text-anchor="end" class="tk">-5</text>
<path d="M65.5,200.70h6.5M679.5,200.70h-6.5" stroke="#262626" stroke-width="1.3"/>
<text x="57.3" y="208.4" text-anchor="end" class="tk">-10</text>
<path d="M65.5,297.40h6.5M679.5,297.40h-6.5" stroke="#262626" stroke-width="1.3"/>
<text x="57.3" y="305.1" text-anchor="end" class="tk">-15</text>
<path d="M65.5,394.10h6.5M679.5,394.10h-6.5" stroke="#262626" stroke-width="1.3"/>
<text x="57.3" y="401.8" text-anchor="end" class="tk">-20</text>
<path d="M65.5,490.80h6.5M679.5,490.80h-6.5" stroke="#262626" stroke-width="1.3"/>
<text x="57.3" y="498.5" text-anchor="end" class="tk">-25</text>
<text x="372.5" y="549.6" text-anchor="middle" class="lb">Iteration</text>
<text transform="translate(16.5,249.1) rotate(-90)" text-anchor="middle" class="lb">NMSD</text>
<text x="629.1" y="558.0" class="tk" style="font-size:25px;stroke:none">×</text>
<text x="645.6" y="555.6" class="tk">10</text>
<text x="668.4" y="545.5" class="tk" style="font-size:18.2px">4</text>
<rect x="347.5" y="20.5" width="318.5" height="99.3" fill="#fff" stroke="#262626" stroke-width="1.2"/>
<path d="M353,34.5H402.5" stroke="#0000ff" stroke-width="3.2"/>
<text x="406.5" y="40.7" class="lg">NLMS (<tspan class="m">μ</tspan> = 0.02)</text>
<path d="M353,58.4H402.5" stroke="#ff0000" stroke-width="3.2"/>
<text x="406.5" y="64.6" class="lg">BC-NLMS (<tspan class="m">μ</tspan> = 0.02, <tspan class="m">ρ</tspan>=0.1)</text>
<path d="M353,82.4H402.5" stroke="#00ffff" stroke-width="3.2"/>
<text x="406.5" y="88.6" class="lg">BC-NSAF (<tspan class="m">μ</tspan> = 0.02, <tspan class="m">κ</tspan>=0.4)</text>
<path d="M353,106.3H402.5" stroke="#000000" stroke-width="3.2"/>
<text x="406.5" y="112.5" class="lg">Proposed algorithm (<tspan class="m">μ</tspan> = 0.014)</text>
<text x="330.2" y="593.4" class="cap"><tspan font-size="32.6" dy="1.5">(</tspan><tspan dy="-1.5" dx="0.6">a</tspan><tspan font-size="32.6" dy="1.5" dx="0.6">)</tspan></text>
<g clip-path="none" fill="none" stroke-linejoin="round" stroke-linecap="round">
<path d="M65.5,665.9 L65.9,667.1 L66.2,668.3 L66.6,669.7 L66.9,670.8 L67.3,672.1 L67.6,673.4 L67.9,674.6 L68.2,675.9 L68.6,677.2 L68.9,678.5 L69.2,679.8 L69.5,681.0 L69.9,682.2 L70.2,683.5 L70.6,684.7 L71.0,686.0 L71.4,687.2 L71.7,688.4 L72.1,689.7 L72.5,690.9 L72.8,692.2 L73.2,693.5 L73.5,694.7 L73.8,696.0 L74.1,697.2 L74.5,698.5 L74.8,699.7 L75.1,701.0 L75.5,702.3 L75.8,703.5 L76.1,704.8 L76.5,705.9 L76.8,707.3 L77.2,708.5 L77.6,709.8 L77.9,711.0 L78.3,712.2 L78.7,713.5 L79.1,714.7 L79.5,716.0 L79.9,717.2 L80.3,718.4 L80.7,719.7 L81.1,721.0 L81.5,722.1 L81.9,723.4 L82.3,724.6 L82.6,725.9 L83.0,727.1 L83.4,728.4 L83.8,729.6 L84.1,730.9 L84.5,732.1 L84.9,733.4 L85.3,734.6 L85.6,735.8 L86.0,737.1 L86.4,738.4 L86.7,739.5 L87.1,740.8 L87.5,742.1 L87.8,743.3 L88.2,744.6 L88.5,745.8 L88.9,747.1 L89.2,748.3 L89.6,749.5 L90.0,750.9 L90.3,752.1 L90.7,753.3 L91.0,754.6 L91.4,755.8 L91.7,757.1 L92.1,758.3 L92.4,759.6 L92.8,760.8 L93.1,762.1 L93.5,763.4 L93.8,764.5 L94.2,765.8 L94.5,767.1 L94.9,768.4 L95.2,769.6 L95.6,770.8 L95.9,772.1 L96.3,773.4 L96.6,774.7 L97.0,775.9 L97.3,777.1 L97.7,778.4 L98.0,779.6 L98.4,780.9 L98.7,782.2 L99.1,783.3 L99.5,784.7 L99.8,785.9 L100.2,787.1 L100.5,788.4 L100.9,789.6 L101.3,790.9 L101.6,792.1 L102.0,793.3 L102.4,794.6 L102.7,795.9 L103.1,797.2 L103.5,798.4 L103.9,799.6 L104.3,800.8 L104.7,802.0 L105.0,803.3 L105.4,804.5 L105.9,805.7 L106.3,807.0 L106.7,808.2 L107.1,809.5 L107.5,810.7 L107.9,811.9 L108.4,813.3 L108.8,814.3 L109.2,815.6 L109.6,816.9 L110.0,818.1 L110.5,819.3 L110.9,820.6 L111.3,821.8 L111.7,823.0 L112.1,824.2 L112.5,825.5 L112.9,826.6 L113.3,827.9 L113.7,829.2 L114.1,830.4 L114.5,831.7 L114.9,832.9 L115.3,834.2 L115.7,835.3 L116.1,836.7 L116.5,837.9 L116.9,839.1 L117.3,840.3 L117.6,841.6 L118.0,842.8 L118.4,844.0 L118.8,845.4 L119.2,846.6 L119.6,847.9 L120.0,849.0 L120.4,850.3 L120.8,851.5 L121.2,852.8 L121.6,854.0 L122.0,855.2 L122.4,856.4 L122.8,857.7 L123.2,858.9 L123.6,860.2 L124.0,861.4 L124.4,862.7 L124.9,863.8 L125.3,865.0 L125.7,866.4 L126.1,867.5 L126.5,868.7 L126.9,870.0 L127.3,871.3 L127.7,872.5 L128.1,873.7 L128.5,875.1 L129.0,876.2 L129.4,877.5 L129.8,878.6 L130.2,879.9 L130.5,881.2 L130.9,882.4 L131.3,883.6 L131.7,884.9 L132.1,886.1 L132.4,887.3 L132.8,888.6 L133.2,889.9 L133.6,891.1 L134.0,892.3 L134.3,893.6 L134.7,894.8 L135.1,896.1 L135.5,897.2 L136.0,898.5 L136.4,899.8 L136.8,901.0 L137.3,902.2 L137.7,903.4 L138.1,904.6 L138.6,905.8 L139.0,907.0 L139.5,908.4 L140.0,909.5 L140.4,910.7 L140.9,912.0 L141.4,913.1 L141.9,914.3 L142.3,915.5 L142.8,916.8 L143.3,918.1 L143.8,919.2 L144.3,920.3 L144.8,921.6 L145.3,922.8 L145.8,923.9 L146.3,925.2 L146.8,926.3 L147.3,927.6 L147.8,928.8 L148.3,929.9 L148.8,931.1 L149.3,932.4 L149.8,933.6 L150.3,934.8 L150.8,936.0 L151.3,937.1 L151.8,938.4 L152.3,939.7 L152.8,940.8 L153.4,941.9 L153.9,943.2 L154.4,944.3 L154.9,945.6 L155.5,946.8 L156.0,948.0 L156.6,949.2 L157.1,950.3 L157.7,951.5 L158.2,952.6 L158.8,953.7 L159.4,954.9 L159.9,956.1 L160.5,957.0 L161.1,958.6 L161.7,959.4 L162.3,960.7 L163.0,961.7 L163.6,962.8 L164.2,964.1 L164.9,965.2 L165.5,966.3 L166.2,967.5 L166.8,968.5 L167.5,969.8 L168.2,970.9 L168.9,971.9 L169.5,973.0 L170.2,974.2 L170.9,975.3 L171.6,976.4 L172.3,977.2 L173.0,978.6 L173.6,979.8 L174.3,980.8 L175.0,982.0 L175.7,983.2 L176.4,984.2 L177.0,985.3 L177.7,986.3 L178.4,987.4 L179.0,988.6 L179.7,989.6 L180.4,990.9 L181.1,991.9 L181.8,993.1 L182.5,994.0 L183.2,995.0 L183.9,996.2 L184.7,997.2 L185.4,998.3 L186.2,999.3 L187.0,1000.4 L187.8,1001.6 L188.6,1002.7 L189.5,1003.6 L190.3,1004.4 L191.2,1005.7 L192.1,1006.1 L193.0,1007.0 L193.9,1008.4 L194.8,1009.2 L195.7,1010.1 L196.6,1011.1 L197.6,1011.6 L198.5,1012.6 L199.5,1014.0 L200.5,1014.8 L201.5,1015.2 L202.5,1016.7 L203.5,1016.8 L204.5,1017.7 L205.5,1018.7 L206.6,1019.1 L207.6,1020.1 L208.6,1021.0 L209.7,1021.7 L210.7,1022.8 L211.8,1023.5 L212.9,1023.7 L213.9,1024.6 L215.0,1025.5 L216.1,1026.2 L217.2,1026.7 L218.3,1027.8 L219.4,1028.6 L220.5,1028.8 L221.6,1030.0 L222.7,1029.9 L223.8,1030.6 L224.9,1032.0 L226.0,1032.3 L227.1,1032.9 L228.2,1033.8 L229.3,1034.4 L230.4,1035.3 L231.5,1035.4 L232.7,1036.4 L233.8,1038.2 L235.0,1037.8 L236.1,1037.7 L237.3,1039.1 L238.4,1039.7 L239.6,1040.6 L240.8,1040.7 L242.0,1040.9 L243.1,1042.2 L244.3,1042.5 L245.5,1042.1 L246.7,1043.5 L247.9,1043.7 L249.1,1044.7 L250.3,1044.7 L251.5,1045.6 L252.7,1046.0 L253.9,1046.7 L255.1,1047.0 L256.3,1047.4 L257.5,1048.0 L258.7,1048.6 L260.0,1048.8 L261.2,1049.6 L262.5,1049.5 L263.8,1049.9 L265.1,1050.7 L266.3,1050.1 L267.6,1050.4 L268.9,1049.9 L270.2,1050.2 L271.5,1050.9 L272.8,1050.3 L274.1,1050.8 L275.4,1049.8 L276.7,1049.6 L278.0,1050.3 L279.3,1049.7 L280.6,1051.4 L281.9,1051.0 L283.2,1050.1 L284.5,1050.7 L285.8,1050.7 L287.1,1051.3 L288.3,1051.4 L289.6,1052.2 L290.8,1052.9 L292.0,1052.8 L293.3,1053.0 L294.5,1054.2 L295.7,1054.3 L296.9,1055.1 L298.2,1054.6 L299.5,1055.0 L300.8,1054.8 L302.1,1054.5 L303.4,1054.3 L304.7,1054.7 L306.0,1055.4 L307.3,1054.6 L308.6,1054.1 L309.9,1054.4 L311.2,1054.0 L312.5,1053.3 L313.8,1053.8 L315.1,1054.2 L316.4,1053.4 L317.7,1053.0 L319.0,1053.8 L320.3,1054.5 L321.5,1054.3 L322.8,1054.6 L324.1,1055.4 L325.4,1055.3 L326.7,1055.0 L328.0,1054.6 L329.3,1054.8 L330.6,1054.7 L331.9,1055.1 L333.2,1054.3 L334.5,1055.3 L335.8,1054.8 L337.1,1054.5 L338.4,1054.8 L339.7,1053.4 L340.9,1053.6 L342.2,1053.3 L343.5,1053.6 L344.8,1052.9 L346.0,1053.6 L347.3,1052.8 L348.6,1053.2 L349.9,1052.7 L351.2,1053.5 L352.5,1052.9 L353.8,1053.2 L355.1,1052.8 L356.4,1052.5 L357.7,1052.8 L359.0,1053.3 L360.4,1052.3 L361.6,1052.0 L362.9,1052.5 L364.2,1052.9 L365.5,1052.2 L366.8,1052.6 L368.1,1053.1 L369.4,1053.2 L370.6,1053.7 L371.9,1054.4 L373.2,1054.1 L374.5,1054.2 L375.8,1054.7 L377.1,1054.4 L378.4,1054.1 L379.7,1054.2 L381.0,1054.2 L382.3,1055.6 L383.6,1054.9 L384.9,1055.4 L386.1,1055.7 L387.4,1055.3 L388.7,1056.3 L390.0,1056.1 L391.2,1055.8 L392.5,1056.7 L393.8,1056.5 L395.1,1056.9 L396.4,1057.1 L397.7,1057.7 L398.9,1056.4 L400.2,1056.3 L401.5,1056.3 L402.8,1056.1 L404.1,1055.7 L405.4,1055.2 L406.7,1055.1 L408.0,1055.2 L409.3,1054.7 L410.6,1054.9 L411.9,1054.7 L413.2,1055.7 L414.5,1054.6 L415.8,1056.1 L417.1,1055.1 L418.4,1054.9 L419.7,1054.9 L421.0,1055.8 L422.3,1055.9 L423.6,1055.2 L424.9,1055.8 L426.2,1055.7 L427.5,1055.7 L428.8,1055.9 L430.1,1056.3 L431.4,1055.2 L432.7,1055.1 L434.0,1056.2 L435.3,1056.1 L436.6,1056.5 L437.9,1055.5 L439.2,1055.8 L440.5,1056.9 L441.8,1055.8 L443.1,1056.5 L444.4,1056.1 L445.7,1056.3 L447.0,1055.9 L448.3,1057.0 L449.6,1055.8 L450.8,1056.2 L452.1,1056.5 L453.4,1057.4 L454.7,1057.2 L456.0,1057.4 L457.3,1057.2 L458.6,1057.4 L459.9,1057.6 L461.2,1058.1 L462.5,1057.6 L463.8,1056.9 L465.1,1058.1 L466.4,1057.8 L467.7,1057.4 L469.0,1058.1 L470.2,1058.0 L471.5,1059.6 L472.8,1058.9 L474.1,1058.5 L475.3,1059.7 L476.6,1059.5 L477.9,1060.6 L479.2,1060.2 L480.5,1059.5 L481.8,1060.1 L483.1,1059.9 L484.4,1060.2 L485.7,1060.3 L487.0,1059.9 L488.3,1060.9 L489.5,1060.7 L490.8,1060.9 L492.1,1061.8 L493.4,1062.5 L494.7,1061.6 L496.0,1062.6 L497.3,1061.0 L498.6,1062.0 L499.9,1061.4 L501.2,1061.4 L502.4,1060.9 L503.7,1060.8 L505.0,1060.7 L506.3,1060.5 L507.6,1060.6 L508.9,1061.1 L510.1,1059.6 L511.4,1059.6 L512.7,1058.7 L514.0,1058.1 L515.2,1059.4 L516.5,1058.1 L517.8,1058.0 L519.1,1058.0 L520.3,1058.1 L521.6,1057.6 L522.9,1058.1 L524.2,1057.1 L525.5,1056.4 L526.8,1057.3 L528.1,1057.3 L529.4,1056.9 L530.7,1057.1 L532.0,1057.0 L533.3,1057.9 L534.6,1057.0 L535.8,1057.0 L537.0,1058.1 L538.2,1057.9 L539.4,1059.3 L540.6,1059.9 L541.9,1059.9 L543.1,1060.3 L544.4,1060.4 L545.7,1061.5 L547.0,1061.2 L548.3,1060.6 L549.6,1060.7 L550.9,1061.1 L552.1,1060.8 L553.4,1060.1 L554.6,1060.0 L555.9,1059.4 L557.1,1059.7 L558.4,1059.5 L559.7,1059.4 L561.0,1059.7 L562.3,1059.4 L563.6,1060.4 L564.9,1060.3 L566.2,1060.2 L567.4,1060.7 L568.7,1060.7 L570.0,1062.2 L571.3,1061.1 L572.6,1061.5 L573.9,1061.4 L575.2,1060.8 L576.5,1061.0 L577.8,1060.8 L579.1,1060.9 L580.4,1060.7 L581.7,1060.8 L583.0,1060.7 L584.2,1060.1 L585.5,1059.9 L586.8,1059.7 L588.1,1059.5 L589.4,1059.0 L590.7,1060.0 L592.0,1059.7 L593.3,1059.8 L594.6,1059.4 L595.9,1059.7 L597.2,1059.6 L598.5,1060.8 L599.7,1061.2 L601.0,1061.0 L602.3,1060.4 L603.5,1059.6 L604.7,1059.4 L606.0,1058.9 L607.2,1058.8 L608.5,1058.6 L609.8,1058.2 L611.0,1058.3 L612.3,1058.6 L613.6,1058.5 L615.0,1058.2 L616.3,1057.4 L617.6,1058.0 L618.9,1058.6 L620.2,1058.3 L621.4,1058.5 L622.7,1057.6 L624.0,1057.5 L625.3,1057.4 L626.6,1057.0 L627.8,1056.7 L629.1,1056.9 L630.3,1057.3 L631.6,1057.8 L632.8,1057.3 L634.0,1058.2 L635.2,1058.5 L636.5,1058.4 L637.8,1057.7 L639.1,1058.8 L640.4,1057.6 L641.7,1057.8 L643.0,1056.6 L644.3,1057.2 L645.6,1057.3 L646.8,1057.2 L648.1,1058.3 L649.3,1059.5 L650.5,1058.9 L651.7,1059.3 L653.0,1060.4 L654.3,1059.9 L655.6,1059.6 L656.9,1059.2 L658.2,1060.0 L659.5,1059.8 L660.8,1060.4 L662.1,1059.3 L663.4,1059.6 L664.7,1059.5 L666.0,1059.5 L667.3,1059.9 L668.6,1059.7 L669.9,1059.0 L671.2,1059.2 L672.5,1059.1 L673.8,1059.6 L675.1,1059.2 L676.4,1058.9 L677.7,1059.3 L679.0,1059.6 L679.7,1060.1" stroke="#0000ff" stroke-width="3.7"/>
<path d="M65.5,665.9 L65.9,667.2 L66.2,668.5 L66.6,669.6 L66.9,670.9 L67.3,672.2 L67.6,673.4 L67.9,674.7 L68.2,676.0 L68.5,677.2 L68.8,678.4 L69.1,679.8 L69.4,681.0 L69.7,682.3 L70.1,683.5 L70.4,684.8 L70.7,686.1 L71.1,687.3 L71.4,688.5 L71.7,689.8 L72.1,691.0 L72.4,692.3 L72.7,693.6 L73.0,694.9 L73.3,696.1 L73.6,697.3 L73.9,698.7 L74.2,699.9 L74.5,701.2 L74.8,702.4 L75.1,703.7 L75.4,705.0 L75.7,706.2 L76.0,707.5 L76.3,708.7 L76.6,710.0 L77.0,711.3 L77.3,712.5 L77.6,713.7 L77.9,715.1 L78.3,716.3 L78.6,717.5 L78.9,718.8 L79.2,720.1 L79.6,721.3 L79.9,722.6 L80.3,723.9 L80.6,725.1 L80.9,726.3 L81.3,727.5 L81.7,728.9 L82.0,730.1 L82.4,731.3 L82.8,732.6 L83.1,733.9 L83.5,735.1 L83.9,736.4 L84.2,737.6 L84.6,738.9 L84.9,740.1 L85.3,741.3 L85.6,742.6 L85.9,743.8 L86.2,745.1 L86.6,746.4 L86.9,747.7 L87.2,748.9 L87.5,750.1 L87.8,751.4 L88.1,752.7 L88.4,754.0 L88.7,755.2 L89.0,756.5 L89.3,757.8 L89.6,759.0 L89.9,760.3 L90.2,761.5 L90.5,762.8 L90.8,764.1 L91.1,765.4 L91.4,766.6 L91.7,767.9 L92.0,769.2 L92.2,770.4 L92.5,771.7 L92.8,773.0 L93.1,774.2 L93.4,775.5 L93.7,776.8 L94.0,778.0 L94.3,779.3 L94.6,780.6 L94.9,781.8 L95.2,783.1 L95.5,784.3 L95.8,785.6 L96.1,786.9 L96.4,788.1 L96.7,789.4 L97.0,790.7 L97.3,791.9 L97.6,793.2 L97.9,794.4 L98.2,795.8 L98.5,797.0 L98.8,798.2 L99.1,799.6 L99.4,800.8 L99.7,802.1 L100.0,803.3 L100.3,804.6 L100.6,805.8 L100.9,807.1 L101.3,808.3 L101.6,809.7 L101.9,810.9 L102.2,812.2 L102.5,813.4 L102.8,814.7 L103.1,815.9 L103.5,817.2 L103.8,818.5 L104.1,819.7 L104.4,820.9 L104.8,822.3 L105.1,823.5 L105.4,824.8 L105.7,826.0 L106.0,827.3 L106.4,828.5 L106.7,829.7 L107.0,831.0 L107.4,832.3 L107.7,833.6 L108.0,834.9 L108.4,836.1 L108.7,837.3 L109.0,838.5 L109.4,839.8 L109.7,841.1 L110.0,842.3 L110.4,843.6 L110.7,844.9 L111.1,846.1 L111.4,847.4 L111.7,848.6 L112.1,849.9 L112.4,851.1 L112.8,852.4 L113.1,853.7 L113.5,854.9 L113.8,856.1 L114.2,857.4 L114.5,858.7 L114.9,859.8 L115.3,861.1 L115.6,862.4 L116.0,863.7 L116.3,864.9 L116.7,866.1 L117.1,867.4 L117.4,868.6 L117.8,869.8 L118.1,871.1 L118.5,872.4 L118.8,873.7 L119.2,874.9 L119.5,876.1 L119.8,877.4 L120.2,878.7 L120.5,879.9 L120.8,881.2 L121.1,882.4 L121.4,883.7 L121.7,885.0 L122.0,886.2 L122.3,887.5 L122.6,888.8 L122.9,890.0 L123.2,891.3 L123.4,892.6 L123.7,893.9 L124.0,895.1 L124.3,896.4 L124.6,897.7 L124.9,898.9 L125.2,900.2 L125.5,901.4 L125.9,902.7 L126.2,903.9 L126.5,905.2 L126.8,906.5 L127.1,907.7 L127.4,909.0 L127.7,910.2 L128.1,911.5 L128.4,912.8 L128.7,914.0 L129.0,915.3 L129.3,916.5 L129.7,917.8 L130.0,919.1 L130.3,920.3 L130.6,921.6 L131.0,922.9 L131.3,924.1 L131.6,925.4 L131.9,926.7 L132.3,927.9 L132.6,929.2 L132.9,930.4 L133.2,931.6 L133.6,932.9 L133.9,934.2 L134.2,935.5 L134.6,936.7 L134.9,938.0 L135.2,939.2 L135.5,940.4 L135.9,941.7 L136.2,943.0 L136.5,944.2 L136.9,945.5 L137.2,946.8 L137.5,948.0 L137.9,949.2 L138.2,950.6 L138.6,951.7 L138.9,953.0 L139.3,954.3 L139.7,955.6 L140.0,956.8 L140.4,958.0 L140.8,959.2 L141.2,960.5 L141.6,961.8 L142.0,962.9 L142.4,964.1 L142.8,965.4 L143.2,966.7 L143.6,967.9 L144.1,969.1 L144.5,970.3 L144.9,971.6 L145.4,972.7 L145.8,974.1 L146.2,975.2 L146.7,976.4 L147.1,977.6 L147.6,978.9 L148.0,980.1 L148.5,981.4 L148.9,982.6 L149.4,983.8 L149.8,985.0 L150.3,986.3 L150.7,987.4 L151.2,988.6 L151.7,989.9 L152.1,991.1 L152.6,992.3 L153.0,993.5 L153.5,994.8 L154.0,996.0 L154.4,997.1 L154.9,998.3 L155.4,999.6 L155.9,1000.8 L156.3,1001.9 L156.8,1003.3 L157.3,1004.4 L157.8,1005.7 L158.3,1006.9 L158.8,1008.1 L159.3,1009.3 L159.8,1010.4 L160.3,1011.6 L160.8,1012.9 L161.3,1013.9 L161.8,1015.1 L162.4,1016.5 L162.9,1017.6 L163.5,1018.9 L164.0,1020.0 L164.6,1020.9 L165.1,1022.2 L165.7,1023.4 L166.3,1024.6 L166.8,1025.8 L167.4,1026.9 L168.0,1028.1 L168.6,1029.2 L169.2,1030.6 L169.8,1031.5 L170.4,1032.7 L171.0,1034.0 L171.6,1035.0 L172.2,1036.2 L172.8,1037.3 L173.5,1038.5 L174.1,1039.7 L174.7,1040.6 L175.3,1041.7 L176.0,1042.9 L176.6,1044.3 L177.2,1045.4 L177.9,1046.6 L178.5,1047.8 L179.2,1048.7 L179.9,1049.7 L180.6,1050.9 L181.3,1052.0 L182.0,1053.2 L182.8,1054.1 L183.5,1055.2 L184.3,1056.1 L185.1,1057.0 L185.9,1058.6 L186.7,1059.3 L187.6,1060.3 L188.4,1061.4 L189.3,1062.8 L190.2,1063.2 L191.1,1064.1 L192.0,1064.9 L193.0,1065.9 L193.9,1066.3 L194.9,1067.9 L195.9,1068.4 L197.0,1068.9 L198.1,1070.2 L199.2,1070.5 L200.3,1071.8 L201.4,1071.9 L202.6,1072.6 L203.7,1073.4 L204.9,1074.1 L206.0,1074.2 L207.2,1074.7 L208.4,1075.5 L209.6,1075.3 L210.8,1075.4 L212.0,1076.9 L213.3,1077.4 L214.5,1078.2 L215.7,1078.1 L217.0,1079.0 L218.2,1079.5 L219.5,1079.4 L220.7,1079.4 L222.0,1079.7 L223.2,1080.3 L224.5,1080.1 L225.7,1081.1 L227.0,1081.6 L228.3,1081.4 L229.5,1082.3 L230.8,1081.9 L232.1,1082.6 L233.3,1082.9 L234.6,1082.4 L235.8,1083.4 L237.1,1084.2 L238.4,1084.6 L239.6,1085.0 L240.9,1084.5 L242.1,1085.2 L243.4,1084.8 L244.7,1086.0 L246.0,1085.9 L247.2,1086.5 L248.5,1085.8 L249.8,1087.1 L251.1,1086.8 L252.4,1086.4 L253.7,1087.4 L255.0,1088.1 L256.3,1087.4 L257.6,1087.5 L258.9,1086.8 L260.2,1087.4 L261.5,1088.0 L262.8,1087.7 L264.1,1087.5 L265.4,1087.3 L266.7,1088.4 L268.0,1087.3 L269.3,1086.8 L270.6,1087.6 L271.9,1087.3 L273.2,1087.3 L274.5,1087.1 L275.8,1087.0 L277.1,1086.9 L278.4,1087.8 L279.7,1087.0 L281.0,1087.0 L282.3,1087.5 L283.6,1087.7 L284.9,1087.5 L286.2,1087.3 L287.5,1087.1 L288.8,1087.4 L290.1,1087.2 L291.4,1087.3 L292.7,1087.8 L294.0,1087.3 L295.3,1087.7 L296.6,1087.0 L297.9,1087.1 L299.1,1087.1 L300.4,1087.2 L301.7,1086.5 L303.0,1086.5 L304.3,1087.7 L305.6,1087.0 L306.9,1086.7 L308.2,1086.2 L309.5,1086.6 L310.8,1087.3 L312.1,1087.5 L313.4,1086.4 L314.7,1086.9 L316.0,1087.2 L317.3,1087.2 L318.6,1087.0 L319.9,1086.9 L321.2,1087.1 L322.5,1086.7 L323.8,1087.0 L325.1,1087.2 L326.4,1086.8 L327.7,1087.5 L329.0,1087.3 L330.3,1086.7 L331.6,1086.7 L332.9,1087.0 L334.2,1087.1 L335.5,1087.1 L336.8,1086.9 L338.1,1086.7 L339.4,1087.6 L340.7,1087.3 L342.0,1086.6 L343.3,1086.5 L344.6,1086.4 L345.9,1086.4 L347.2,1086.0 L348.5,1086.2 L349.8,1084.7 L351.1,1085.1 L352.4,1084.9 L353.7,1084.3 L354.9,1084.6 L356.2,1084.3 L357.5,1084.0 L358.8,1083.8 L360.1,1084.4 L361.4,1083.7 L362.7,1084.3 L364.0,1083.8 L365.3,1084.3 L366.6,1083.7 L367.9,1083.7 L369.2,1084.7 L370.5,1084.7 L371.8,1085.8 L373.1,1085.3 L374.4,1085.3 L375.7,1085.4 L376.9,1085.2 L378.2,1085.7 L379.5,1085.4 L380.8,1085.9 L382.1,1085.5 L383.4,1086.4 L384.7,1086.0 L386.0,1085.9 L387.3,1086.3 L388.6,1086.0 L389.9,1085.5 L391.2,1086.2 L392.5,1086.7 L393.8,1086.0 L395.1,1086.7 L396.4,1086.7 L397.7,1086.6 L399.0,1085.7 L400.3,1087.5 L401.6,1086.9 L402.9,1086.3 L404.2,1085.8 L405.5,1085.5 L406.8,1085.1 L408.1,1085.5 L409.4,1086.0 L410.7,1084.9 L412.0,1085.3 L413.3,1085.7 L414.6,1085.7 L415.9,1085.4 L417.2,1084.9 L418.5,1086.0 L419.8,1085.3 L421.1,1085.3 L422.4,1085.4 L423.7,1084.6 L425.0,1084.3 L426.3,1084.3 L427.6,1085.2 L428.9,1084.7 L430.2,1083.8 L431.4,1083.8 L432.7,1084.2 L434.0,1083.5 L435.3,1083.8 L436.6,1083.8 L437.9,1083.6 L439.2,1083.7 L440.5,1083.8 L441.8,1082.9 L443.1,1082.9 L444.4,1083.4 L445.7,1082.9 L446.9,1082.8 L448.2,1083.2 L449.5,1083.0 L450.8,1082.9 L452.1,1083.5 L453.4,1083.0 L454.7,1083.2 L456.0,1083.5 L457.3,1083.8 L458.6,1082.9 L459.9,1084.1 L461.2,1084.0 L462.5,1083.2 L463.8,1084.1 L465.1,1083.5 L466.4,1084.3 L467.7,1083.9 L469.0,1084.1 L470.3,1083.5 L471.6,1084.1 L472.9,1084.0 L474.2,1084.5 L475.5,1084.1 L476.8,1084.6 L478.1,1085.5 L479.4,1084.5 L480.7,1085.1 L482.0,1084.5 L483.3,1085.1 L484.6,1084.4 L485.9,1085.5 L487.2,1084.8 L488.5,1084.8 L489.8,1084.9 L491.1,1085.0 L492.4,1085.6 L493.7,1085.6 L495.0,1086.0 L496.3,1086.0 L497.6,1085.6 L498.9,1085.9 L500.2,1086.6 L501.5,1086.9 L502.7,1086.8 L504.0,1086.8 L505.3,1086.0 L506.6,1085.5 L507.9,1086.9 L509.2,1086.2 L510.5,1085.8 L511.8,1086.0 L513.1,1086.2 L514.4,1085.6 L515.7,1085.2 L517.0,1085.3 L518.3,1085.6 L519.6,1085.4 L520.8,1083.9 L522.1,1084.9 L523.4,1084.4 L524.7,1084.6 L526.0,1083.0 L527.3,1083.6 L528.5,1083.3 L529.8,1083.2 L531.1,1082.6 L532.4,1082.7 L533.7,1082.2 L535.0,1082.7 L536.3,1083.6 L537.6,1082.3 L538.9,1082.0 L540.1,1083.7 L541.4,1082.3 L542.7,1082.2 L544.0,1082.8 L545.3,1082.1 L546.6,1082.5 L547.9,1082.0 L549.2,1082.9 L550.5,1082.4 L551.8,1082.4 L553.1,1082.4 L554.4,1083.1 L555.7,1082.5 L557.0,1082.6 L558.3,1083.0 L559.6,1083.3 L560.9,1081.6 L562.2,1082.8 L563.5,1082.7 L564.8,1082.5 L566.1,1082.2 L567.4,1081.6 L568.7,1082.2 L570.0,1082.4 L571.3,1082.6 L572.6,1082.6 L573.8,1082.7 L575.1,1081.8 L576.4,1082.7 L577.7,1082.8 L579.0,1082.7 L580.3,1082.7 L581.6,1082.4 L582.9,1081.6 L584.2,1081.9 L585.5,1081.5 L586.8,1082.3 L588.1,1081.7 L589.3,1082.7 L590.6,1081.7 L591.9,1082.6 L593.2,1082.7 L594.5,1082.5 L595.8,1082.6 L597.1,1082.8 L598.4,1083.8 L599.7,1083.3 L601.0,1083.2 L602.3,1083.3 L603.6,1084.1 L604.8,1083.5 L606.1,1084.5 L607.4,1084.4 L608.7,1083.5 L610.0,1083.0 L611.3,1083.4 L612.6,1082.5 L613.9,1083.1 L615.2,1082.7 L616.5,1082.3 L617.8,1081.9 L619.1,1082.2 L620.4,1081.9 L621.7,1081.9 L623.0,1081.6 L624.3,1082.3 L625.6,1081.0 L626.8,1081.1 L628.1,1081.9 L629.4,1081.8 L630.7,1081.2 L632.0,1082.0 L633.3,1081.9 L634.6,1080.7 L635.9,1082.6 L637.2,1081.8 L638.5,1081.8 L639.8,1081.9 L641.1,1081.5 L642.4,1081.9 L643.7,1082.7 L645.0,1082.0 L646.3,1082.3 L647.6,1081.4 L648.9,1082.2 L650.2,1081.8 L651.5,1081.8 L652.8,1081.5 L654.1,1081.4 L655.4,1081.3 L656.7,1081.9 L658.0,1081.9 L659.3,1081.4 L660.6,1081.7 L661.9,1081.3 L663.2,1081.3 L664.5,1081.6 L665.8,1082.3 L667.1,1080.7 L668.4,1081.6 L669.7,1082.2 L671.0,1082.3 L672.3,1082.1 L673.6,1081.8 L674.9,1082.4 L676.2,1082.7 L677.5,1082.9 L678.8,1082.6 L679.7,1082.3" stroke="#ff0000" stroke-width="3.7"/>
<path d="M65.5,665.9 L65.7,667.2 L65.9,668.5 L66.1,669.7 L66.3,671.0 L66.5,672.3 L66.7,673.6 L66.9,674.9 L67.1,676.2 L67.2,677.5 L67.4,678.8 L67.6,680.0 L67.7,681.3 L67.8,682.6 L68.0,683.9 L68.1,685.2 L68.2,686.5 L68.3,687.8 L68.5,689.1 L68.6,690.4 L68.7,691.7 L68.8,693.0 L68.9,694.3 L69.0,695.6 L69.1,696.9 L69.2,698.2 L69.3,699.5 L69.4,700.8 L69.5,702.1 L69.6,703.4 L69.7,704.7 L69.8,706.0 L69.9,707.2 L70.0,708.5 L70.1,709.8 L70.2,711.1 L70.3,712.4 L70.3,713.7 L70.4,715.0 L70.5,716.3 L70.6,717.6 L70.7,718.9 L70.8,720.2 L70.9,721.5 L70.9,722.8 L71.0,724.1 L71.1,725.4 L71.2,726.7 L71.3,728.0 L71.3,729.3 L71.4,730.6 L71.5,731.9 L71.6,733.2 L71.6,734.5 L71.7,735.8 L71.8,737.1 L71.8,738.4 L71.9,739.7 L71.9,741.0 L72.0,742.3 L72.1,743.6 L72.1,744.9 L72.2,746.2 L72.2,747.5 L72.3,748.8 L72.3,750.1 L72.4,751.4 L72.4,752.7 L72.5,754.0 L72.6,755.3 L72.6,756.6 L72.7,757.9 L72.8,759.2 L72.9,760.5 L73.0,761.8 L73.1,763.1 L73.2,764.3 L73.4,765.6 L73.5,766.9 L73.7,768.2 L73.9,769.5 L74.1,770.8 L74.3,772.0 L74.5,773.3 L74.8,774.6 L75.0,775.9 L75.2,777.2 L75.5,778.5 L75.7,779.7 L76.0,781.0 L76.2,782.3 L76.4,783.6 L76.7,784.9 L76.9,786.2 L77.1,787.4 L77.3,788.7 L77.5,790.0 L77.7,791.3 L77.9,792.6 L78.1,793.8 L78.4,795.1 L78.6,796.4 L78.8,797.7 L79.0,799.0 L79.2,800.3 L79.4,801.6 L79.6,802.8 L79.9,804.1 L80.1,805.4 L80.3,806.7 L80.5,807.9 L80.7,809.2 L81.0,810.5 L81.2,811.8 L81.4,813.1 L81.6,814.4 L81.9,815.6 L82.1,816.9 L82.3,818.2 L82.6,819.5 L82.8,820.8 L83.0,822.0 L83.3,823.3 L83.5,824.6 L83.7,825.9 L84.0,827.2 L84.2,828.4 L84.4,829.7 L84.7,831.0 L84.9,832.3 L85.1,833.5 L85.4,834.8 L85.6,836.1 L85.8,837.4 L86.1,838.7 L86.3,839.9 L86.5,841.2 L86.7,842.5 L87.0,843.8 L87.2,845.1 L87.4,846.3 L87.6,847.6 L87.8,848.9 L88.0,850.2 L88.2,851.5 L88.4,852.7 L88.7,854.0 L88.9,855.3 L89.1,856.6 L89.3,857.9 L89.5,859.2 L89.7,860.5 L90.0,861.7 L90.2,863.0 L90.4,864.3 L90.6,865.6 L90.9,866.9 L91.1,868.1 L91.4,869.4 L91.6,870.6 L91.9,872.0 L92.2,873.2 L92.4,874.5 L92.7,875.8 L93.0,877.0 L93.3,878.3 L93.6,879.6 L93.9,880.8 L94.2,882.1 L94.5,883.4 L94.8,884.6 L95.1,885.9 L95.4,887.1 L95.7,888.4 L96.0,889.7 L96.3,890.9 L96.6,892.2 L96.9,893.5 L97.3,894.7 L97.6,896.0 L97.9,897.2 L98.2,898.5 L98.5,899.8 L98.9,901.1 L99.2,902.3 L99.5,903.5 L99.9,904.8 L100.2,906.0 L100.5,907.3 L100.9,908.6 L101.2,909.8 L101.5,911.0 L101.9,912.3 L102.2,913.6 L102.6,914.8 L102.9,916.1 L103.3,917.3 L103.6,918.6 L104.0,919.9 L104.3,921.1 L104.7,922.3 L105.0,923.6 L105.4,924.9 L105.8,926.2 L106.1,927.4 L106.5,928.6 L106.8,929.8 L107.2,931.1 L107.5,932.3 L107.9,933.6 L108.2,934.8 L108.6,936.1 L108.9,937.3 L109.3,938.6 L109.7,939.9 L110.0,941.1 L110.4,942.4 L110.7,943.6 L111.1,944.8 L111.5,946.1 L111.8,947.4 L112.2,948.6 L112.6,949.9 L112.9,951.1 L113.3,952.3 L113.6,953.6 L114.0,954.8 L114.4,956.1 L114.7,957.3 L115.1,958.6 L115.4,959.8 L115.8,961.1 L116.2,962.3 L116.5,963.6 L116.9,964.8 L117.2,966.1 L117.6,967.3 L117.9,968.6 L118.3,969.9 L118.6,971.1 L119.0,972.4 L119.3,973.6 L119.7,974.8 L120.1,976.1 L120.4,977.3 L120.8,978.6 L121.2,979.8 L121.5,981.1 L121.9,982.4 L122.3,983.6 L122.7,984.8 L123.1,986.0 L123.5,987.3 L123.9,988.5 L124.3,989.8 L124.7,991.0 L125.1,992.2 L125.5,993.4 L125.9,994.7 L126.4,995.9 L126.8,997.1 L127.2,998.4 L127.7,999.6 L128.1,1000.8 L128.6,1002.0 L129.0,1003.3 L129.4,1004.4 L129.9,1005.7 L130.3,1006.9 L130.8,1008.2 L131.2,1009.3 L131.7,1010.6 L132.2,1011.7 L132.6,1013.2 L133.0,1014.2 L133.5,1015.5 L133.9,1016.6 L134.4,1017.9 L134.8,1019.1 L135.2,1020.3 L135.7,1021.5 L136.1,1022.8 L136.5,1024.1 L137.0,1025.4 L137.4,1026.4 L137.8,1027.8 L138.2,1029.0 L138.7,1030.2 L139.1,1031.5 L139.6,1032.7 L140.0,1033.9 L140.5,1035.1 L141.0,1036.3 L141.5,1037.5 L142.0,1038.7 L142.5,1039.8 L143.0,1041.0 L143.6,1042.2 L144.1,1043.4 L144.7,1044.6 L145.3,1045.7 L145.9,1046.6 L146.6,1048.1 L147.2,1049.2 L147.9,1050.4 L148.6,1051.4 L149.3,1052.6 L150.0,1053.6 L150.7,1054.6 L151.5,1055.7 L152.2,1056.8 L153.0,1058.0 L153.8,1059.0 L154.6,1059.7 L155.5,1060.7 L156.3,1061.7 L157.2,1062.7 L158.2,1063.9 L159.1,1064.4 L160.1,1065.7 L161.1,1065.9 L162.1,1066.9 L163.1,1068.4 L164.1,1068.8 L165.2,1069.5 L166.2,1070.4 L167.3,1070.9 L168.3,1071.7 L169.4,1072.5 L170.5,1073.2 L171.7,1073.9 L172.8,1074.3 L173.9,1075.2 L175.1,1075.5 L176.3,1076.5 L177.4,1076.8 L178.6,1077.5 L179.8,1078.0 L181.0,1078.2 L182.2,1078.7 L183.4,1079.3 L184.7,1080.0 L185.9,1080.6 L187.1,1080.6 L188.4,1080.7 L189.7,1081.4 L190.9,1081.6 L192.2,1082.1 L193.5,1082.6 L194.7,1083.1 L196.0,1081.8 L197.3,1082.5 L198.6,1082.9 L199.9,1083.4 L201.2,1083.5 L202.5,1083.4 L203.8,1083.8 L205.1,1083.4 L206.4,1083.6 L207.7,1083.9 L209.0,1083.5 L210.3,1084.7 L211.6,1083.8 L212.9,1083.7 L214.2,1084.4 L215.4,1083.5 L216.7,1084.2 L218.0,1084.4 L219.3,1085.1 L220.6,1085.8 L221.9,1084.7 L223.2,1084.1 L224.5,1084.7 L225.8,1084.9 L227.1,1084.2 L228.4,1084.7 L229.7,1085.2 L231.1,1084.8 L232.4,1084.2 L233.7,1084.3 L235.0,1083.8 L236.3,1084.3 L237.6,1084.2 L238.9,1085.0 L240.1,1083.8 L241.4,1083.7 L242.7,1084.4 L244.0,1084.4 L245.3,1083.8 L246.6,1083.9 L247.9,1084.0 L249.2,1083.9 L250.5,1083.7 L251.8,1083.8 L253.1,1082.9 L254.4,1083.8 L255.7,1083.5 L257.0,1083.1 L258.3,1083.3 L259.6,1083.3 L260.9,1083.2 L262.2,1083.3 L263.5,1083.2 L264.8,1082.8 L266.1,1084.3 L267.4,1083.6 L268.7,1084.3 L270.0,1083.3 L271.3,1084.1 L272.6,1083.3 L273.9,1084.0 L275.2,1083.8 L276.5,1083.7 L277.8,1083.3 L279.1,1083.5 L280.4,1084.0 L281.7,1082.6 L283.0,1083.1 L284.3,1082.9 L285.6,1083.0 L286.9,1083.7 L288.2,1083.7 L289.5,1083.3 L290.8,1083.9 L292.1,1083.1 L293.4,1083.1 L294.7,1083.4 L296.0,1083.6 L297.3,1083.3 L298.6,1083.0 L299.9,1083.6 L301.2,1084.1 L302.5,1083.2 L303.8,1083.4 L305.1,1082.9 L306.4,1083.4 L307.7,1083.0 L309.0,1083.4 L310.3,1083.9 L311.6,1083.4 L312.9,1082.8 L314.2,1083.4 L315.5,1082.2 L316.8,1083.4 L318.1,1082.9 L319.4,1082.3 L320.7,1082.5 L322.0,1082.2 L323.3,1083.4 L324.6,1082.8 L325.9,1082.1 L327.2,1082.1 L328.5,1082.4 L329.8,1082.1 L331.1,1082.4 L332.4,1082.4 L333.7,1081.6 L335.0,1082.4 L336.3,1082.8 L337.6,1082.2 L338.9,1082.3 L340.2,1081.8 L341.5,1081.8 L342.8,1082.1 L344.1,1081.6 L345.4,1081.2 L346.7,1082.2 L348.0,1081.5 L349.3,1081.8 L350.6,1081.7 L351.9,1081.7 L353.2,1081.6 L354.5,1081.4 L355.8,1080.9 L357.0,1081.2 L358.3,1080.6 L359.6,1080.8 L360.9,1080.4 L362.2,1080.6 L363.5,1080.3 L364.8,1081.2 L366.1,1080.9 L367.4,1080.5 L368.7,1080.2 L370.0,1080.8 L371.3,1081.7 L372.6,1081.0 L373.9,1081.8 L375.2,1081.4 L376.5,1081.4 L377.8,1081.1 L379.1,1081.7 L380.4,1082.1 L381.7,1082.0 L383.0,1081.9 L384.3,1081.3 L385.6,1081.8 L386.9,1081.3 L388.2,1081.4 L389.5,1081.9 L390.8,1081.3 L392.1,1082.0 L393.4,1081.7 L394.7,1082.4 L396.0,1081.7 L397.3,1082.0 L398.6,1082.2 L399.9,1082.0 L401.2,1082.0 L402.5,1081.0 L403.8,1082.0 L405.1,1080.9 L406.4,1081.2 L407.7,1080.4 L409.0,1081.2 L410.3,1081.0 L411.6,1081.1 L412.9,1080.7 L414.2,1081.0 L415.5,1080.6 L416.8,1080.8 L418.1,1081.1 L419.4,1079.8 L420.7,1080.6 L422.0,1080.5 L423.3,1079.8 L424.6,1080.2 L425.9,1080.9 L427.2,1080.4 L428.5,1079.9 L429.8,1080.4 L431.0,1080.2 L432.3,1079.4 L433.6,1079.7 L434.9,1079.7 L436.2,1079.6 L437.5,1079.5 L438.8,1079.2 L440.1,1079.1 L441.4,1078.7 L442.7,1078.6 L444.0,1078.5 L445.3,1078.9 L446.6,1078.6 L447.9,1078.5 L449.2,1079.1 L450.5,1079.9 L451.8,1078.9 L453.1,1079.5 L454.4,1078.9 L455.7,1079.2 L457.0,1079.6 L458.3,1079.7 L459.6,1080.1 L460.9,1079.1 L462.2,1079.3 L463.5,1079.9 L464.8,1079.9 L466.1,1079.0 L467.4,1079.4 L468.7,1079.8 L470.0,1080.0 L471.3,1079.1 L472.6,1079.7 L473.9,1078.7 L475.2,1080.1 L476.5,1080.5 L477.8,1079.3 L479.1,1079.8 L480.4,1079.3 L481.7,1079.8 L483.0,1080.3 L484.3,1080.4 L485.5,1080.4 L486.8,1079.7 L488.1,1080.0 L489.4,1081.2 L490.7,1080.6 L492.0,1080.4 L493.3,1080.8 L494.6,1080.6 L495.9,1081.1 L497.2,1080.8 L498.5,1081.0 L499.8,1080.8 L501.1,1082.3 L502.4,1082.0 L503.7,1082.0 L505.0,1082.2 L506.3,1081.7 L507.6,1081.3 L508.9,1081.9 L510.2,1081.8 L511.5,1081.6 L512.8,1081.1 L514.0,1080.4 L515.3,1081.2 L516.6,1080.9 L517.9,1080.5 L519.2,1080.3 L520.5,1080.2 L521.8,1079.9 L523.1,1079.3 L524.4,1079.7 L525.7,1079.5 L527.0,1079.6 L528.2,1079.2 L529.5,1079.3 L530.8,1078.5 L532.1,1078.9 L533.4,1079.4 L534.7,1078.3 L536.0,1078.4 L537.3,1078.4 L538.6,1078.1 L539.9,1078.1 L541.2,1077.4 L542.4,1077.8 L543.7,1078.9 L545.0,1078.5 L546.3,1078.6 L547.6,1079.4 L548.9,1078.0 L550.2,1079.1 L551.5,1079.0 L552.8,1077.8 L554.1,1078.3 L555.4,1078.7 L556.7,1078.1 L558.0,1078.1 L559.3,1078.6 L560.6,1078.2 L561.9,1078.3 L563.2,1078.0 L564.5,1078.1 L565.8,1078.1 L567.1,1078.9 L568.4,1078.2 L569.7,1077.7 L571.0,1078.2 L572.3,1078.2 L573.6,1079.5 L574.9,1077.5 L576.2,1078.3 L577.5,1078.0 L578.8,1078.3 L580.1,1077.1 L581.4,1076.9 L582.7,1077.4 L584.0,1077.6 L585.3,1077.4 L586.6,1077.6 L587.9,1077.4 L589.2,1078.0 L590.5,1077.8 L591.7,1077.8 L593.0,1078.7 L594.3,1077.9 L595.6,1077.7 L596.9,1078.4 L598.2,1078.6 L599.5,1078.8 L600.8,1078.8 L602.1,1079.1 L603.4,1078.9 L604.7,1078.6 L606.0,1079.5 L607.3,1078.7 L608.6,1079.1 L609.9,1078.6 L611.2,1078.6 L612.5,1078.9 L613.8,1077.3 L615.1,1078.5 L616.4,1078.0 L617.7,1078.2 L619.0,1077.6 L620.3,1077.7 L621.6,1077.6 L622.9,1077.2 L624.2,1077.6 L625.5,1078.4 L626.8,1078.1 L628.1,1078.2 L629.4,1077.5 L630.7,1077.5 L632.0,1077.4 L633.3,1076.7 L634.6,1077.5 L635.9,1077.3 L637.2,1078.0 L638.5,1078.1 L639.8,1077.9 L641.1,1077.4 L642.4,1077.6 L643.7,1078.4 L644.9,1078.0 L646.2,1078.3 L647.5,1077.7 L648.8,1078.1 L650.1,1077.5 L651.4,1077.3 L652.7,1077.5 L654.0,1077.0 L655.3,1076.7 L656.6,1077.8 L657.9,1077.5 L659.2,1077.1 L660.5,1077.3 L661.8,1077.8 L663.1,1077.2 L664.4,1076.5 L665.7,1078.5 L667.0,1077.0 L668.3,1077.5 L669.6,1076.8 L670.9,1076.8 L672.2,1078.0 L673.5,1077.3 L674.8,1078.2 L676.1,1077.9 L677.4,1077.9 L678.7,1078.3 L679.7,1078.4" stroke="#00ffff" stroke-width="3.7"/>
<path d="M65.5,666.0 L66.1,667.0 L66.6,668.2 L67.2,669.5 L67.6,670.7 L68.1,671.8 L68.5,673.0 L68.9,674.3 L69.2,675.5 L69.6,676.8 L69.9,678.1 L70.2,679.4 L70.5,680.7 L70.7,681.9 L71.0,683.2 L71.2,684.5 L71.5,685.8 L71.7,687.0 L71.9,688.3 L72.1,689.6 L72.2,690.9 L72.3,692.2 L72.4,693.5 L72.6,694.8 L72.7,696.1 L72.7,697.4 L72.8,698.7 L72.9,700.0 L73.0,701.3 L73.1,702.6 L73.2,703.9 L73.3,705.2 L73.3,706.5 L73.4,707.8 L73.5,709.1 L73.6,710.4 L73.7,711.6 L73.7,712.9 L73.8,714.2 L73.9,715.5 L74.0,716.8 L74.0,718.1 L74.1,719.4 L74.2,720.7 L74.2,722.0 L74.3,723.3 L74.4,724.6 L74.4,725.9 L74.5,727.2 L74.6,728.5 L74.7,729.8 L74.7,731.1 L74.8,732.4 L74.9,733.7 L74.9,735.0 L75.0,736.3 L75.1,737.6 L75.1,738.9 L75.2,740.2 L75.2,741.5 L75.3,742.8 L75.4,744.1 L75.4,745.4 L75.5,746.7 L75.5,748.0 L75.6,749.3 L75.6,750.6 L75.7,751.9 L75.7,753.2 L75.8,754.5 L75.8,755.8 L75.9,757.1 L75.9,758.4 L76.0,759.7 L76.0,761.0 L76.1,762.3 L76.1,763.6 L76.2,764.9 L76.3,766.2 L76.3,767.5 L76.4,768.8 L76.4,770.1 L76.5,771.4 L76.6,772.7 L76.7,774.0 L76.7,775.3 L76.8,776.6 L76.9,777.9 L76.9,779.2 L77.0,780.5 L77.1,781.8 L77.1,783.1 L77.2,784.4 L77.3,785.7 L77.3,787.0 L77.4,788.3 L77.5,789.6 L77.5,790.9 L77.6,792.2 L77.6,793.5 L77.7,794.7 L77.8,796.0 L77.8,797.3 L77.9,798.6 L77.9,799.9 L78.0,801.2 L78.1,802.5 L78.1,803.8 L78.2,805.1 L78.2,806.4 L78.3,807.7 L78.3,809.0 L78.4,810.3 L78.5,811.6 L78.5,812.9 L78.6,814.2 L78.6,815.5 L78.7,816.8 L78.8,818.1 L78.8,819.4 L78.9,820.7 L78.9,822.0 L79.0,823.3 L79.1,824.6 L79.1,825.9 L79.2,827.2 L79.2,828.5 L79.3,829.8 L79.4,831.1 L79.4,832.4 L79.5,833.7 L79.5,835.0 L79.6,836.3 L79.6,837.6 L79.7,838.9 L79.8,840.2 L79.8,841.5 L79.9,842.8 L79.9,844.1 L80.0,845.4 L80.0,846.7 L80.1,848.0 L80.1,849.3 L80.2,850.6 L80.2,851.9 L80.3,853.2 L80.3,854.5 L80.4,855.8 L80.4,857.1 L80.5,858.4 L80.5,859.7 L80.6,861.0 L80.6,862.3 L80.7,863.6 L80.7,864.9 L80.8,866.2 L80.9,867.5 L80.9,868.8 L81.0,870.1 L81.1,871.4 L81.2,872.7 L81.2,874.0 L81.3,875.3 L81.4,876.6 L81.5,877.9 L81.6,879.2 L81.7,880.5 L81.8,881.8 L81.9,883.1 L82.0,884.4 L82.1,885.7 L82.2,887.0 L82.3,888.3 L82.4,889.6 L82.5,890.8 L82.6,892.1 L82.8,893.4 L82.9,894.7 L83.0,896.0 L83.2,897.3 L83.3,898.6 L83.5,899.9 L83.6,901.2 L83.8,902.5 L84.0,903.7 L84.2,905.0 L84.4,906.3 L84.6,907.6 L84.8,908.9 L85.1,910.1 L85.3,911.4 L85.6,912.7 L85.8,914.0 L86.1,915.3 L86.4,916.6 L86.7,917.8 L86.9,919.1 L87.2,920.4 L87.5,921.6 L87.8,922.9 L88.1,924.2 L88.5,925.4 L88.8,926.7 L89.1,928.0 L89.4,929.2 L89.7,930.4 L90.1,931.6 L90.4,932.9 L90.8,934.2 L91.2,935.4 L91.6,936.6 L92.0,937.9 L92.4,939.1 L92.8,940.3 L93.3,941.5 L93.7,942.8 L94.2,944.0 L94.6,945.2 L95.1,946.5 L95.5,947.7 L96.0,949.0 L96.5,950.2 L96.9,951.4 L97.4,952.5 L97.9,953.8 L98.4,954.9 L98.8,956.1 L99.3,957.5 L99.8,958.6 L100.3,959.8 L100.8,961.0 L101.3,962.3 L101.8,963.4 L102.3,964.6 L102.8,965.9 L103.3,967.0 L103.8,968.2 L104.4,969.4 L104.9,970.6 L105.4,971.7 L106.0,973.0 L106.5,974.1 L107.1,975.2 L107.6,976.3 L108.2,977.6 L108.7,979.0 L109.3,980.1 L109.8,981.1 L110.4,982.3 L111.0,983.5 L111.6,984.7 L112.1,985.9 L112.7,987.0 L113.3,988.0 L113.9,989.3 L114.5,990.4 L115.1,991.8 L115.7,992.8 L116.3,993.9 L116.9,995.1 L117.5,996.1 L118.1,997.4 L118.7,998.6 L119.3,999.6 L120.0,1000.8 L120.6,1001.9 L121.2,1003.1 L121.9,1004.3 L122.5,1005.3 L123.1,1006.5 L123.8,1007.6 L124.4,1008.8 L125.1,1009.8 L125.7,1010.9 L126.4,1012.1 L127.0,1013.4 L127.7,1014.4 L128.3,1015.6 L129.0,1016.6 L129.6,1017.6 L130.3,1019.0 L130.9,1020.0 L131.6,1021.3 L132.2,1022.4 L132.9,1023.5 L133.5,1024.6 L134.2,1025.4 L134.8,1026.9 L135.5,1028.0 L136.2,1029.1 L136.8,1030.3 L137.5,1031.3 L138.2,1032.5 L138.9,1033.3 L139.5,1034.6 L140.2,1035.8 L140.9,1036.9 L141.7,1037.8 L142.4,1038.7 L143.1,1039.9 L143.8,1041.1 L144.6,1042.2 L145.3,1043.4 L146.1,1044.4 L146.9,1045.2 L147.7,1046.4 L148.5,1047.3 L149.3,1048.5 L150.1,1049.3 L150.9,1050.6 L151.8,1051.3 L152.6,1052.3 L153.4,1053.2 L154.3,1054.5 L155.2,1055.4 L156.0,1056.4 L156.9,1057.4 L157.8,1058.1 L158.7,1059.5 L159.6,1060.2 L160.5,1061.1 L161.4,1061.9 L162.4,1062.7 L163.3,1063.6 L164.3,1064.8 L165.3,1065.5 L166.2,1066.3 L167.2,1067.0 L168.2,1068.0 L169.2,1069.3 L170.2,1069.8 L171.2,1070.0 L172.2,1070.8 L173.2,1072.4 L174.1,1072.8 L175.1,1074.0 L176.0,1075.0 L177.0,1075.9 L177.9,1077.1 L178.8,1077.5 L179.8,1078.6 L180.7,1079.3 L181.7,1080.1 L182.6,1081.1 L183.6,1082.5 L184.6,1083.3 L185.5,1083.6 L186.5,1084.8 L187.6,1085.4 L188.6,1086.4 L189.6,1086.6 L190.7,1087.7 L191.8,1088.3 L192.9,1088.7 L194.1,1089.4 L195.2,1090.1 L196.4,1090.9 L197.5,1092.0 L198.7,1092.6 L199.9,1093.2 L201.0,1093.4 L202.2,1094.1 L203.4,1094.0 L204.6,1094.9 L205.7,1095.8 L206.9,1096.1 L208.1,1096.2 L209.3,1097.1 L210.6,1097.5 L211.8,1097.9 L213.0,1098.2 L214.2,1099.1 L215.4,1099.2 L216.6,1099.4 L217.9,1100.2 L219.1,1100.8 L220.3,1101.6 L221.5,1101.9 L222.8,1101.3 L224.0,1102.8 L225.2,1103.0 L226.5,1103.4 L227.7,1104.1 L228.9,1104.6 L230.2,1104.6 L231.4,1104.7 L232.7,1104.9 L233.9,1105.6 L235.2,1106.0 L236.4,1105.9 L237.7,1107.2 L238.9,1107.5 L240.2,1107.5 L241.4,1108.3 L242.7,1108.2 L244.0,1108.0 L245.2,1108.8 L246.5,1109.5 L247.8,1108.9 L249.0,1108.8 L250.3,1110.0 L251.6,1109.2 L252.8,1109.7 L254.1,1110.5 L255.4,1110.4 L256.7,1111.5 L258.0,1111.1 L259.2,1111.5 L260.5,1112.0 L261.8,1111.7 L263.1,1112.1 L264.4,1111.4 L265.7,1113.1 L267.0,1112.5 L268.2,1112.5 L269.5,1112.4 L270.8,1112.9 L272.1,1112.7 L273.4,1113.1 L274.7,1112.8 L276.0,1112.6 L277.3,1112.9 L278.6,1113.0 L279.9,1113.6 L281.2,1113.6 L282.5,1113.4 L283.8,1113.8 L285.1,1113.5 L286.4,1113.8 L287.7,1113.8 L289.0,1114.2 L290.3,1113.7 L291.6,1114.1 L292.9,1114.3 L294.2,1113.9 L295.5,1114.5 L296.8,1114.7 L298.1,1115.2 L299.4,1114.5 L300.7,1114.5 L302.0,1114.5 L303.2,1115.4 L304.5,1115.1 L305.8,1115.0 L307.1,1115.5 L308.4,1115.8 L309.7,1116.2 L311.0,1115.9 L312.3,1115.1 L313.6,1116.0 L314.9,1115.1 L316.2,1115.6 L317.5,1115.7 L318.8,1114.8 L320.1,1115.5 L321.4,1115.4 L322.7,1116.3 L324.0,1115.1 L325.3,1115.7 L326.6,1115.3 L327.9,1115.4 L329.2,1115.0 L330.5,1115.8 L331.8,1115.9 L333.1,1115.9 L334.4,1114.7 L335.7,1114.6 L337.0,1115.2 L338.3,1115.6 L339.6,1115.4 L340.9,1114.8 L342.2,1114.5 L343.5,1115.3 L344.8,1115.1 L346.1,1114.2 L347.4,1114.4 L348.7,1114.4 L350.0,1115.3 L351.3,1114.6 L352.6,1114.8 L353.9,1113.9 L355.2,1114.4 L356.5,1114.2 L357.8,1114.3 L359.1,1114.4 L360.4,1114.2 L361.7,1113.8 L363.0,1114.7 L364.3,1113.8 L365.6,1113.9 L366.9,1113.5 L368.2,1114.4 L369.5,1114.4 L370.8,1114.1 L372.1,1114.0 L373.4,1114.5 L374.7,1114.3 L376.0,1114.1 L377.3,1114.7 L378.6,1115.0 L379.9,1114.9 L381.2,1115.2 L382.5,1115.1 L383.8,1115.8 L385.1,1115.7 L386.4,1115.3 L387.6,1116.0 L388.9,1115.9 L390.2,1115.7 L391.5,1115.9 L392.8,1116.2 L394.1,1115.7 L395.4,1116.3 L396.7,1116.4 L398.0,1115.8 L399.3,1115.9 L400.5,1115.7 L401.8,1115.2 L403.1,1115.6 L404.4,1115.7 L405.7,1115.7 L407.0,1116.0 L408.3,1115.4 L409.6,1115.2 L410.9,1115.4 L412.2,1115.8 L413.5,1115.9 L414.8,1115.0 L416.1,1115.3 L417.4,1115.0 L418.7,1115.3 L420.0,1113.9 L421.3,1114.7 L422.6,1114.1 L423.9,1113.5 L425.2,1114.9 L426.5,1114.4 L427.8,1115.2 L429.1,1115.0 L430.4,1115.1 L431.7,1114.9 L433.0,1114.3 L434.3,1114.6 L435.6,1113.7 L436.9,1113.8 L438.2,1114.4 L439.5,1114.8 L440.8,1114.1 L442.1,1113.4 L443.4,1113.8 L444.7,1114.1 L446.0,1114.2 L447.3,1113.9 L448.6,1114.6 L449.9,1114.4 L451.2,1114.1 L452.5,1113.9 L453.8,1115.1 L455.1,1114.0 L456.4,1114.1 L457.7,1113.8 L459.0,1114.4 L460.3,1113.6 L461.6,1114.6 L462.9,1113.7 L464.2,1114.7 L465.5,1113.8 L466.8,1113.9 L468.1,1114.2 L469.4,1114.6 L470.7,1114.5 L472.0,1114.2 L473.3,1114.6 L474.6,1114.9 L475.9,1114.0 L477.2,1115.3 L478.5,1114.8 L479.8,1113.8 L481.1,1115.0 L482.4,1114.9 L483.7,1114.9 L485.0,1115.0 L486.3,1115.0 L487.6,1115.6 L488.9,1115.4 L490.2,1115.6 L491.5,1115.3 L492.8,1116.0 L494.1,1115.4 L495.4,1115.7 L496.7,1115.4 L498.0,1115.5 L499.3,1115.9 L500.6,1115.9 L501.9,1115.6 L503.2,1115.6 L504.5,1115.5 L505.8,1115.9 L507.0,1115.7 L508.3,1115.8 L509.6,1115.4 L510.9,1115.1 L512.2,1115.3 L513.5,1114.7 L514.8,1114.8 L516.1,1114.8 L517.4,1114.9 L518.7,1114.2 L520.0,1114.1 L521.3,1114.2 L522.6,1113.8 L523.8,1113.9 L525.1,1113.6 L526.4,1113.3 L527.7,1112.9 L529.0,1113.1 L530.3,1113.1 L531.6,1112.8 L532.9,1112.5 L534.2,1112.5 L535.5,1112.9 L536.8,1112.2 L538.1,1111.9 L539.4,1112.8 L540.7,1112.0 L542.0,1113.0 L543.2,1112.7 L544.5,1112.1 L545.8,1112.8 L547.1,1112.9 L548.4,1113.0 L549.7,1113.1 L551.0,1113.4 L552.3,1113.3 L553.6,1113.6 L554.9,1112.9 L556.2,1112.8 L557.5,1113.1 L558.8,1112.7 L560.1,1112.5 L561.4,1112.7 L562.7,1112.1 L564.0,1112.0 L565.3,1112.2 L566.6,1112.6 L567.9,1112.7 L569.2,1112.0 L570.5,1112.3 L571.8,1112.8 L573.1,1112.8 L574.4,1112.3 L575.7,1113.0 L577.0,1112.4 L578.3,1112.3 L579.6,1111.9 L580.9,1112.4 L582.2,1112.3 L583.5,1111.7 L584.8,1112.3 L586.1,1112.2 L587.4,1112.1 L588.7,1111.9 L590.0,1112.3 L591.3,1111.8 L592.6,1111.9 L593.9,1112.1 L595.1,1112.5 L596.4,1112.9 L597.7,1111.7 L599.0,1112.5 L600.3,1112.3 L601.6,1112.8 L602.9,1112.1 L604.2,1113.4 L605.5,1112.4 L606.8,1113.1 L608.1,1111.9 L609.4,1112.4 L610.7,1112.8 L612.0,1112.5 L613.3,1111.3 L614.6,1111.2 L615.9,1110.9 L617.2,1111.6 L618.5,1110.7 L619.8,1111.9 L621.1,1111.3 L622.4,1111.5 L623.7,1110.6 L625.0,1110.8 L626.3,1110.8 L627.6,1110.3 L628.9,1110.3 L630.2,1110.9 L631.5,1110.7 L632.8,1110.8 L634.1,1110.3 L635.4,1111.1 L636.7,1111.4 L638.0,1111.0 L639.3,1110.6 L640.6,1111.2 L641.9,1111.2 L643.2,1110.9 L644.5,1110.4 L645.8,1110.0 L647.1,1111.6 L648.4,1111.0 L649.7,1110.6 L651.0,1110.4 L652.3,1109.6 L653.6,1111.0 L654.9,1110.5 L656.2,1110.6 L657.5,1110.5 L658.8,1110.5 L660.1,1110.7 L661.4,1110.0 L662.7,1110.2 L664.0,1110.7 L665.3,1111.0 L666.6,1110.7 L667.9,1110.7 L669.2,1110.2 L670.5,1110.3 L671.8,1110.7 L673.1,1110.6 L674.4,1110.6 L675.7,1110.7 L677.0,1110.0 L678.3,1110.1 L679.6,1111.1 L679.7,1110.8" stroke="#000000" stroke-width="3.7"/>
</g>
<rect x="65.5" y="666.0" width="614.0" height="483.5" fill="none" stroke="#262626" stroke-width="1.3"/>
<path d="M65.50,1149.5v-6.5M65.50,666.0v6.5" stroke="#262626" stroke-width="1.3"/>
<text x="65.5" y="1179.7" text-anchor="middle" class="tk">0</text>
<path d="M142.25,1149.5v-6.5M142.25,666.0v6.5" stroke="#262626" stroke-width="1.3"/>
<text x="142.2" y="1179.7" text-anchor="middle" class="tk">0.5</text>
<path d="M219.00,1149.5v-6.5M219.00,666.0v6.5" stroke="#262626" stroke-width="1.3"/>
<text x="219.0" y="1179.7" text-anchor="middle" class="tk">1</text>
<path d="M295.75,1149.5v-6.5M295.75,666.0v6.5" stroke="#262626" stroke-width="1.3"/>
<text x="295.8" y="1179.7" text-anchor="middle" class="tk">1.5</text>
<path d="M372.50,1149.5v-6.5M372.50,666.0v6.5" stroke="#262626" stroke-width="1.3"/>
<text x="372.5" y="1179.7" text-anchor="middle" class="tk">2</text>
<path d="M449.25,1149.5v-6.5M449.25,666.0v6.5" stroke="#262626" stroke-width="1.3"/>
<text x="449.2" y="1179.7" text-anchor="middle" class="tk">2.5</text>
<path d="M526.00,1149.5v-6.5M526.00,666.0v6.5" stroke="#262626" stroke-width="1.3"/>
<text x="526.0" y="1179.7" text-anchor="middle" class="tk">3</text>
<path d="M602.75,1149.5v-6.5M602.75,666.0v6.5" stroke="#262626" stroke-width="1.3"/>
<text x="602.8" y="1179.7" text-anchor="middle" class="tk">3.5</text>
<path d="M679.50,1149.5v-6.5M679.50,666.0v6.5" stroke="#262626" stroke-width="1.3"/>
<text x="679.5" y="1179.7" text-anchor="middle" class="tk">4</text>
<path d="M65.5,666.00h6.5M679.5,666.00h-6.5" stroke="#262626" stroke-width="1.3"/>
<text x="57.3" y="674.3" text-anchor="end" class="tk">0</text>
<path d="M65.5,786.88h6.5M679.5,786.88h-6.5" stroke="#262626" stroke-width="1.3"/>
<text x="57.3" y="795.2" text-anchor="end" class="tk">-5</text>
<path d="M65.5,907.75h6.5M679.5,907.75h-6.5" stroke="#262626" stroke-width="1.3"/>
<text x="57.3" y="916.0" text-anchor="end" class="tk">-10</text>
<path d="M65.5,1028.62h6.5M679.5,1028.62h-6.5" stroke="#262626" stroke-width="1.3"/>
<text x="57.3" y="1036.9" text-anchor="end" class="tk">-15</text>
<path d="M65.5,1149.50h6.5M679.5,1149.50h-6.5" stroke="#262626" stroke-width="1.3"/>
<text x="57.3" y="1157.8" text-anchor="end" class="tk">-20</text>
<text x="372.5" y="1208.3" text-anchor="middle" class="lb">Iteration</text>
<text transform="translate(16.5,907.8) rotate(-90)" text-anchor="middle" class="lb">NMSD</text>
<text x="629.1" y="1216.7" class="tk" style="font-size:25px;stroke:none">×</text>
<text x="645.6" y="1214.3" class="tk">10</text>
<text x="668.4" y="1204.2" class="tk" style="font-size:18.2px">4</text>
<rect x="347.5" y="680.2" width="318.5" height="99.3" fill="#fff" stroke="#262626" stroke-width="1.2"/>
<path d="M353,694.2H402.5" stroke="#0000ff" stroke-width="3.2"/>
<text x="406.5" y="700.4" class="lg">NLMS (<tspan class="m">μ</tspan> = 0.02)</text>
<path d="M353,718.1H402.5" stroke="#ff0000" stroke-width="3.2"/>
<text x="406.5" y="724.3" class="lg">BC-NLMS (<tspan class="m">μ</tspan> = 0.02, <tspan class="m">ρ</tspan>=0.1)</text>
<path d="M353,742.1H402.5" stroke="#00ffff" stroke-width="3.2"/>
<text x="406.5" y="748.3" class="lg">BC-NSAF (<tspan class="m">μ</tspan> = 0.02, <tspan class="m">κ</tspan>=0.4)</text>
<path d="M353,766.0H402.5" stroke="#000000" stroke-width="3.2"/>
<text x="406.5" y="772.2" class="lg">Proposed algorithm (<tspan class="m">μ</tspan> = 0.014)</text>
<text x="329.0" y="1251.5" class="cap"><tspan font-size="32.6" dy="1.5">(</tspan><tspan dy="-1.5" dx="0.6">b</tspan><tspan font-size="32.6" dy="1.5" dx="0.6">)</tspan></text>
</svg>
</body></html>
